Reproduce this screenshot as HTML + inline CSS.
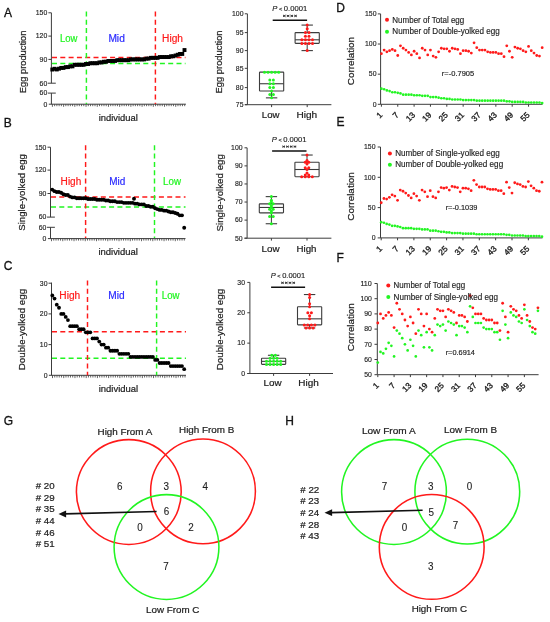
<!DOCTYPE html>
<html><head><meta charset="utf-8"><title>Figure</title>
<style>
html,body{margin:0;padding:0;background:#fff;}
body{width:550px;height:622px;overflow:hidden;}
svg{display:block;font-family:"Liberation Sans", sans-serif;will-change:transform;filter:blur(0.3px);}
</style></head>
<body>
<svg width="550" height="622" viewBox="0 0 550 622">
<rect width="550" height="622" fill="#fff"/>
<text x="3.98" y="17.40" font-size="12.0" fill="#111" stroke="#111" stroke-width="0.3">A</text>
<text x="3.82" y="126.60" font-size="12.0" fill="#111" stroke="#111" stroke-width="0.3">B</text>
<text x="3.69" y="269.60" font-size="12.0" fill="#111" stroke="#111" stroke-width="0.3">C</text>
<text x="336.32" y="12.20" font-size="12.0" fill="#111" stroke="#111" stroke-width="0.3">D</text>
<text x="336.42" y="125.60" font-size="12.0" fill="#111" stroke="#111" stroke-width="0.3">E</text>
<text x="336.62" y="262.20" font-size="12.0" fill="#111" stroke="#111" stroke-width="0.3">F</text>
<text x="3.70" y="424.60" font-size="12.0" fill="#111" stroke="#111" stroke-width="0.3">G</text>
<text x="285.22" y="424.60" font-size="12.0" fill="#111" stroke="#111" stroke-width="0.3">H</text>
<line x1="51.40" y1="12.80" x2="51.40" y2="83.20" stroke="#3c3c3c" stroke-width="1.0"/>
<line x1="51.40" y1="93.10" x2="51.40" y2="104.20" stroke="#3c3c3c" stroke-width="1.0"/>
<line x1="48.40" y1="12.80" x2="51.40" y2="12.80" stroke="#3c3c3c" stroke-width="1.0"/>
<text x="35.79" y="15.10" font-size="8.0" fill="#1e1e1e" stroke="#1e1e1e" stroke-width="0.16" textLength="11.48" lengthAdjust="spacingAndGlyphs">150</text>
<line x1="48.40" y1="36.10" x2="51.40" y2="36.10" stroke="#3c3c3c" stroke-width="1.0"/>
<text x="35.79" y="38.40" font-size="8.0" fill="#1e1e1e" stroke="#1e1e1e" stroke-width="0.16" textLength="11.48" lengthAdjust="spacingAndGlyphs">120</text>
<line x1="48.40" y1="59.40" x2="51.40" y2="59.40" stroke="#3c3c3c" stroke-width="1.0"/>
<text x="39.62" y="61.70" font-size="8.0" fill="#1e1e1e" stroke="#1e1e1e" stroke-width="0.16" textLength="7.65" lengthAdjust="spacingAndGlyphs">90</text>
<line x1="47.80" y1="83.20" x2="55.80" y2="83.20" stroke="#3c3c3c" stroke-width="1.0"/>
<text x="39.62" y="85.50" font-size="8.0" fill="#1e1e1e" stroke="#1e1e1e" stroke-width="0.16" textLength="7.65" lengthAdjust="spacingAndGlyphs">60</text>
<line x1="47.80" y1="93.10" x2="55.80" y2="93.10" stroke="#3c3c3c" stroke-width="1.0"/>
<text x="39.62" y="95.40" font-size="8.0" fill="#1e1e1e" stroke="#1e1e1e" stroke-width="0.16" textLength="7.65" lengthAdjust="spacingAndGlyphs">60</text>
<line x1="48.80" y1="104.20" x2="185.90" y2="104.20" stroke="#3c3c3c" stroke-width="1.0"/>
<text x="43.44" y="106.50" font-size="8.0" fill="#1e1e1e" stroke="#1e1e1e" stroke-width="0.16" textLength="3.83" lengthAdjust="spacingAndGlyphs">0</text>
<line x1="52.40" y1="104.20" x2="52.40" y2="106.80" stroke="#3c3c3c" stroke-width="0.8"/>
<line x1="54.64" y1="104.20" x2="54.64" y2="106.20" stroke="#3c3c3c" stroke-width="0.8"/>
<line x1="56.88" y1="104.20" x2="56.88" y2="106.20" stroke="#3c3c3c" stroke-width="0.8"/>
<line x1="59.13" y1="104.20" x2="59.13" y2="106.20" stroke="#3c3c3c" stroke-width="0.8"/>
<line x1="61.37" y1="104.20" x2="61.37" y2="106.20" stroke="#3c3c3c" stroke-width="0.8"/>
<line x1="63.61" y1="104.20" x2="63.61" y2="106.80" stroke="#3c3c3c" stroke-width="0.8"/>
<line x1="65.85" y1="104.20" x2="65.85" y2="106.20" stroke="#3c3c3c" stroke-width="0.8"/>
<line x1="68.10" y1="104.20" x2="68.10" y2="106.20" stroke="#3c3c3c" stroke-width="0.8"/>
<line x1="70.34" y1="104.20" x2="70.34" y2="106.20" stroke="#3c3c3c" stroke-width="0.8"/>
<line x1="72.58" y1="104.20" x2="72.58" y2="106.20" stroke="#3c3c3c" stroke-width="0.8"/>
<line x1="74.82" y1="104.20" x2="74.82" y2="106.80" stroke="#3c3c3c" stroke-width="0.8"/>
<line x1="77.07" y1="104.20" x2="77.07" y2="106.20" stroke="#3c3c3c" stroke-width="0.8"/>
<line x1="79.31" y1="104.20" x2="79.31" y2="106.20" stroke="#3c3c3c" stroke-width="0.8"/>
<line x1="81.55" y1="104.20" x2="81.55" y2="106.20" stroke="#3c3c3c" stroke-width="0.8"/>
<line x1="83.79" y1="104.20" x2="83.79" y2="106.20" stroke="#3c3c3c" stroke-width="0.8"/>
<line x1="86.04" y1="104.20" x2="86.04" y2="106.80" stroke="#3c3c3c" stroke-width="0.8"/>
<line x1="88.28" y1="104.20" x2="88.28" y2="106.20" stroke="#3c3c3c" stroke-width="0.8"/>
<line x1="90.52" y1="104.20" x2="90.52" y2="106.20" stroke="#3c3c3c" stroke-width="0.8"/>
<line x1="92.76" y1="104.20" x2="92.76" y2="106.20" stroke="#3c3c3c" stroke-width="0.8"/>
<line x1="95.01" y1="104.20" x2="95.01" y2="106.20" stroke="#3c3c3c" stroke-width="0.8"/>
<line x1="97.25" y1="104.20" x2="97.25" y2="106.80" stroke="#3c3c3c" stroke-width="0.8"/>
<line x1="99.49" y1="104.20" x2="99.49" y2="106.20" stroke="#3c3c3c" stroke-width="0.8"/>
<line x1="101.73" y1="104.20" x2="101.73" y2="106.20" stroke="#3c3c3c" stroke-width="0.8"/>
<line x1="103.97" y1="104.20" x2="103.97" y2="106.20" stroke="#3c3c3c" stroke-width="0.8"/>
<line x1="106.22" y1="104.20" x2="106.22" y2="106.20" stroke="#3c3c3c" stroke-width="0.8"/>
<line x1="108.46" y1="104.20" x2="108.46" y2="106.80" stroke="#3c3c3c" stroke-width="0.8"/>
<line x1="110.70" y1="104.20" x2="110.70" y2="106.20" stroke="#3c3c3c" stroke-width="0.8"/>
<line x1="112.94" y1="104.20" x2="112.94" y2="106.20" stroke="#3c3c3c" stroke-width="0.8"/>
<line x1="115.19" y1="104.20" x2="115.19" y2="106.20" stroke="#3c3c3c" stroke-width="0.8"/>
<line x1="117.43" y1="104.20" x2="117.43" y2="106.20" stroke="#3c3c3c" stroke-width="0.8"/>
<line x1="119.67" y1="104.20" x2="119.67" y2="106.80" stroke="#3c3c3c" stroke-width="0.8"/>
<line x1="121.91" y1="104.20" x2="121.91" y2="106.20" stroke="#3c3c3c" stroke-width="0.8"/>
<line x1="124.16" y1="104.20" x2="124.16" y2="106.20" stroke="#3c3c3c" stroke-width="0.8"/>
<line x1="126.40" y1="104.20" x2="126.40" y2="106.20" stroke="#3c3c3c" stroke-width="0.8"/>
<line x1="128.64" y1="104.20" x2="128.64" y2="106.20" stroke="#3c3c3c" stroke-width="0.8"/>
<line x1="130.88" y1="104.20" x2="130.88" y2="106.80" stroke="#3c3c3c" stroke-width="0.8"/>
<line x1="133.13" y1="104.20" x2="133.13" y2="106.20" stroke="#3c3c3c" stroke-width="0.8"/>
<line x1="135.37" y1="104.20" x2="135.37" y2="106.20" stroke="#3c3c3c" stroke-width="0.8"/>
<line x1="137.61" y1="104.20" x2="137.61" y2="106.20" stroke="#3c3c3c" stroke-width="0.8"/>
<line x1="139.85" y1="104.20" x2="139.85" y2="106.20" stroke="#3c3c3c" stroke-width="0.8"/>
<line x1="142.09" y1="104.20" x2="142.09" y2="106.80" stroke="#3c3c3c" stroke-width="0.8"/>
<line x1="144.34" y1="104.20" x2="144.34" y2="106.20" stroke="#3c3c3c" stroke-width="0.8"/>
<line x1="146.58" y1="104.20" x2="146.58" y2="106.20" stroke="#3c3c3c" stroke-width="0.8"/>
<line x1="148.82" y1="104.20" x2="148.82" y2="106.20" stroke="#3c3c3c" stroke-width="0.8"/>
<line x1="151.06" y1="104.20" x2="151.06" y2="106.20" stroke="#3c3c3c" stroke-width="0.8"/>
<line x1="153.31" y1="104.20" x2="153.31" y2="106.80" stroke="#3c3c3c" stroke-width="0.8"/>
<line x1="155.55" y1="104.20" x2="155.55" y2="106.20" stroke="#3c3c3c" stroke-width="0.8"/>
<line x1="157.79" y1="104.20" x2="157.79" y2="106.20" stroke="#3c3c3c" stroke-width="0.8"/>
<line x1="160.03" y1="104.20" x2="160.03" y2="106.20" stroke="#3c3c3c" stroke-width="0.8"/>
<line x1="162.28" y1="104.20" x2="162.28" y2="106.20" stroke="#3c3c3c" stroke-width="0.8"/>
<line x1="164.52" y1="104.20" x2="164.52" y2="106.80" stroke="#3c3c3c" stroke-width="0.8"/>
<line x1="166.76" y1="104.20" x2="166.76" y2="106.20" stroke="#3c3c3c" stroke-width="0.8"/>
<line x1="169.00" y1="104.20" x2="169.00" y2="106.20" stroke="#3c3c3c" stroke-width="0.8"/>
<line x1="171.25" y1="104.20" x2="171.25" y2="106.20" stroke="#3c3c3c" stroke-width="0.8"/>
<line x1="173.49" y1="104.20" x2="173.49" y2="106.20" stroke="#3c3c3c" stroke-width="0.8"/>
<line x1="175.73" y1="104.20" x2="175.73" y2="106.80" stroke="#3c3c3c" stroke-width="0.8"/>
<line x1="177.97" y1="104.20" x2="177.97" y2="106.20" stroke="#3c3c3c" stroke-width="0.8"/>
<line x1="180.22" y1="104.20" x2="180.22" y2="106.20" stroke="#3c3c3c" stroke-width="0.8"/>
<line x1="182.46" y1="104.20" x2="182.46" y2="106.20" stroke="#3c3c3c" stroke-width="0.8"/>
<line x1="184.70" y1="104.20" x2="184.70" y2="106.20" stroke="#3c3c3c" stroke-width="0.8"/>
<line x1="52.00" y1="57.40" x2="185.50" y2="57.40" stroke="#ff1a1a" stroke-width="1.45" stroke-dasharray="5 3.3" stroke-dashoffset="0"/>
<line x1="52.00" y1="63.40" x2="185.50" y2="63.40" stroke="#22f522" stroke-width="1.45" stroke-dasharray="5 3.3" stroke-dashoffset="0"/>
<line x1="86.40" y1="11.40" x2="86.40" y2="104.00" stroke="#22f522" stroke-width="1.45" stroke-dasharray="5 3.3" stroke-dashoffset="0"/>
<line x1="155.40" y1="11.40" x2="155.40" y2="104.00" stroke="#ff1a1a" stroke-width="1.45" stroke-dasharray="5 3.3" stroke-dashoffset="0"/>
<text x="59.97" y="42.30" font-size="10" fill="#22f522" stroke="#22f522" stroke-width="0.2" textLength="17.46" lengthAdjust="spacingAndGlyphs">Low</text>
<text x="108.42" y="42.20" font-size="10" fill="#2a2aff" stroke="#2a2aff" stroke-width="0.2" textLength="16.39" lengthAdjust="spacingAndGlyphs">Mid</text>
<text x="162.12" y="42.40" font-size="10" fill="#ff1a1a" stroke="#ff1a1a" stroke-width="0.2" textLength="20.89" lengthAdjust="spacingAndGlyphs">High</text>
<rect x="50.35" y="67.59" width="3.9" height="3.9" fill="#000"/>
<rect x="52.59" y="66.81" width="3.9" height="3.9" fill="#000"/>
<rect x="54.83" y="67.51" width="3.9" height="3.9" fill="#000"/>
<rect x="57.07" y="66.73" width="3.9" height="3.9" fill="#000"/>
<rect x="59.31" y="65.95" width="3.9" height="3.9" fill="#000"/>
<rect x="61.55" y="65.95" width="3.9" height="3.9" fill="#000"/>
<rect x="63.79" y="65.17" width="3.9" height="3.9" fill="#000"/>
<rect x="66.03" y="65.17" width="3.9" height="3.9" fill="#000"/>
<rect x="68.28" y="64.39" width="3.9" height="3.9" fill="#000"/>
<rect x="70.52" y="64.39" width="3.9" height="3.9" fill="#000"/>
<rect x="72.76" y="62.83" width="3.9" height="3.9" fill="#000"/>
<rect x="75.00" y="62.83" width="3.9" height="3.9" fill="#000"/>
<rect x="77.24" y="62.83" width="3.9" height="3.9" fill="#000"/>
<rect x="79.48" y="62.83" width="3.9" height="3.9" fill="#000"/>
<rect x="81.72" y="62.83" width="3.9" height="3.9" fill="#000"/>
<rect x="83.96" y="62.05" width="3.9" height="3.9" fill="#000"/>
<rect x="86.20" y="62.05" width="3.9" height="3.9" fill="#000"/>
<rect x="88.44" y="61.27" width="3.9" height="3.9" fill="#000"/>
<rect x="90.68" y="61.27" width="3.9" height="3.9" fill="#000"/>
<rect x="92.92" y="61.27" width="3.9" height="3.9" fill="#000"/>
<rect x="95.16" y="61.27" width="3.9" height="3.9" fill="#000"/>
<rect x="97.40" y="60.49" width="3.9" height="3.9" fill="#000"/>
<rect x="99.64" y="60.49" width="3.9" height="3.9" fill="#000"/>
<rect x="101.89" y="59.79" width="3.9" height="3.9" fill="#000"/>
<rect x="104.13" y="59.79" width="3.9" height="3.9" fill="#000"/>
<rect x="106.37" y="59.01" width="3.9" height="3.9" fill="#000"/>
<rect x="108.61" y="59.01" width="3.9" height="3.9" fill="#000"/>
<rect x="110.85" y="59.01" width="3.9" height="3.9" fill="#000"/>
<rect x="113.09" y="59.01" width="3.9" height="3.9" fill="#000"/>
<rect x="115.33" y="58.23" width="3.9" height="3.9" fill="#000"/>
<rect x="117.57" y="58.23" width="3.9" height="3.9" fill="#000"/>
<rect x="119.81" y="58.23" width="3.9" height="3.9" fill="#000"/>
<rect x="122.05" y="58.23" width="3.9" height="3.9" fill="#000"/>
<rect x="124.29" y="58.23" width="3.9" height="3.9" fill="#000"/>
<rect x="126.53" y="58.23" width="3.9" height="3.9" fill="#000"/>
<rect x="128.77" y="57.45" width="3.9" height="3.9" fill="#000"/>
<rect x="131.01" y="57.45" width="3.9" height="3.9" fill="#000"/>
<rect x="133.26" y="57.45" width="3.9" height="3.9" fill="#000"/>
<rect x="135.50" y="57.45" width="3.9" height="3.9" fill="#000"/>
<rect x="137.74" y="57.45" width="3.9" height="3.9" fill="#000"/>
<rect x="139.98" y="57.45" width="3.9" height="3.9" fill="#000"/>
<rect x="142.22" y="57.45" width="3.9" height="3.9" fill="#000"/>
<rect x="144.46" y="56.67" width="3.9" height="3.9" fill="#000"/>
<rect x="146.70" y="56.67" width="3.9" height="3.9" fill="#000"/>
<rect x="148.94" y="55.89" width="3.9" height="3.9" fill="#000"/>
<rect x="151.18" y="55.89" width="3.9" height="3.9" fill="#000"/>
<rect x="153.42" y="55.89" width="3.9" height="3.9" fill="#000"/>
<rect x="155.66" y="55.89" width="3.9" height="3.9" fill="#000"/>
<rect x="157.90" y="55.11" width="3.9" height="3.9" fill="#000"/>
<rect x="160.14" y="55.11" width="3.9" height="3.9" fill="#000"/>
<rect x="162.38" y="55.11" width="3.9" height="3.9" fill="#000"/>
<rect x="164.62" y="55.11" width="3.9" height="3.9" fill="#000"/>
<rect x="166.87" y="55.11" width="3.9" height="3.9" fill="#000"/>
<rect x="169.11" y="54.33" width="3.9" height="3.9" fill="#000"/>
<rect x="171.35" y="54.33" width="3.9" height="3.9" fill="#000"/>
<rect x="173.59" y="53.55" width="3.9" height="3.9" fill="#000"/>
<rect x="175.83" y="52.77" width="3.9" height="3.9" fill="#000"/>
<rect x="178.07" y="51.99" width="3.9" height="3.9" fill="#000"/>
<rect x="180.31" y="51.99" width="3.9" height="3.9" fill="#000"/>
<rect x="182.55" y="48.09" width="3.9" height="3.9" fill="#000"/>
<text transform="translate(26.40,92.45) rotate(-90)" x="-0.76" y="0" font-size="9.4" fill="#1e1e1e" stroke="#1e1e1e" stroke-width="0.22" textLength="62.67" lengthAdjust="spacingAndGlyphs">Egg production</text>
<text x="98.72" y="120.70" font-size="9.4" fill="#1e1e1e" stroke="#1e1e1e" stroke-width="0.22" textLength="39.16" lengthAdjust="spacingAndGlyphs">individual</text>
<line x1="50.50" y1="147.20" x2="50.50" y2="217.10" stroke="#3c3c3c" stroke-width="1.0"/>
<line x1="50.50" y1="227.30" x2="50.50" y2="238.60" stroke="#3c3c3c" stroke-width="1.0"/>
<line x1="47.50" y1="147.20" x2="50.50" y2="147.20" stroke="#3c3c3c" stroke-width="1.0"/>
<text x="34.89" y="149.50" font-size="8.0" fill="#1e1e1e" stroke="#1e1e1e" stroke-width="0.16" textLength="11.48" lengthAdjust="spacingAndGlyphs">150</text>
<line x1="47.50" y1="170.10" x2="50.50" y2="170.10" stroke="#3c3c3c" stroke-width="1.0"/>
<text x="34.89" y="172.40" font-size="8.0" fill="#1e1e1e" stroke="#1e1e1e" stroke-width="0.16" textLength="11.48" lengthAdjust="spacingAndGlyphs">120</text>
<line x1="47.50" y1="193.50" x2="50.50" y2="193.50" stroke="#3c3c3c" stroke-width="1.0"/>
<text x="38.72" y="195.80" font-size="8.0" fill="#1e1e1e" stroke="#1e1e1e" stroke-width="0.16" textLength="7.65" lengthAdjust="spacingAndGlyphs">90</text>
<line x1="46.90" y1="217.10" x2="54.90" y2="217.10" stroke="#3c3c3c" stroke-width="1.0"/>
<text x="38.72" y="219.40" font-size="8.0" fill="#1e1e1e" stroke="#1e1e1e" stroke-width="0.16" textLength="7.65" lengthAdjust="spacingAndGlyphs">60</text>
<line x1="46.90" y1="227.30" x2="54.90" y2="227.30" stroke="#3c3c3c" stroke-width="1.0"/>
<text x="38.72" y="229.60" font-size="8.0" fill="#1e1e1e" stroke="#1e1e1e" stroke-width="0.16" textLength="7.65" lengthAdjust="spacingAndGlyphs">60</text>
<line x1="47.90" y1="238.60" x2="185.50" y2="238.60" stroke="#3c3c3c" stroke-width="1.0"/>
<text x="42.54" y="240.90" font-size="8.0" fill="#1e1e1e" stroke="#1e1e1e" stroke-width="0.16" textLength="3.83" lengthAdjust="spacingAndGlyphs">0</text>
<line x1="51.50" y1="238.60" x2="51.50" y2="241.20" stroke="#3c3c3c" stroke-width="0.8"/>
<line x1="53.75" y1="238.60" x2="53.75" y2="240.60" stroke="#3c3c3c" stroke-width="0.8"/>
<line x1="56.00" y1="238.60" x2="56.00" y2="240.60" stroke="#3c3c3c" stroke-width="0.8"/>
<line x1="58.25" y1="238.60" x2="58.25" y2="240.60" stroke="#3c3c3c" stroke-width="0.8"/>
<line x1="60.50" y1="238.60" x2="60.50" y2="240.60" stroke="#3c3c3c" stroke-width="0.8"/>
<line x1="62.75" y1="238.60" x2="62.75" y2="241.20" stroke="#3c3c3c" stroke-width="0.8"/>
<line x1="65.01" y1="238.60" x2="65.01" y2="240.60" stroke="#3c3c3c" stroke-width="0.8"/>
<line x1="67.26" y1="238.60" x2="67.26" y2="240.60" stroke="#3c3c3c" stroke-width="0.8"/>
<line x1="69.51" y1="238.60" x2="69.51" y2="240.60" stroke="#3c3c3c" stroke-width="0.8"/>
<line x1="71.76" y1="238.60" x2="71.76" y2="240.60" stroke="#3c3c3c" stroke-width="0.8"/>
<line x1="74.01" y1="238.60" x2="74.01" y2="241.20" stroke="#3c3c3c" stroke-width="0.8"/>
<line x1="76.26" y1="238.60" x2="76.26" y2="240.60" stroke="#3c3c3c" stroke-width="0.8"/>
<line x1="78.51" y1="238.60" x2="78.51" y2="240.60" stroke="#3c3c3c" stroke-width="0.8"/>
<line x1="80.76" y1="238.60" x2="80.76" y2="240.60" stroke="#3c3c3c" stroke-width="0.8"/>
<line x1="83.01" y1="238.60" x2="83.01" y2="240.60" stroke="#3c3c3c" stroke-width="0.8"/>
<line x1="85.26" y1="238.60" x2="85.26" y2="241.20" stroke="#3c3c3c" stroke-width="0.8"/>
<line x1="87.51" y1="238.60" x2="87.51" y2="240.60" stroke="#3c3c3c" stroke-width="0.8"/>
<line x1="89.76" y1="238.60" x2="89.76" y2="240.60" stroke="#3c3c3c" stroke-width="0.8"/>
<line x1="92.02" y1="238.60" x2="92.02" y2="240.60" stroke="#3c3c3c" stroke-width="0.8"/>
<line x1="94.27" y1="238.60" x2="94.27" y2="240.60" stroke="#3c3c3c" stroke-width="0.8"/>
<line x1="96.52" y1="238.60" x2="96.52" y2="241.20" stroke="#3c3c3c" stroke-width="0.8"/>
<line x1="98.77" y1="238.60" x2="98.77" y2="240.60" stroke="#3c3c3c" stroke-width="0.8"/>
<line x1="101.02" y1="238.60" x2="101.02" y2="240.60" stroke="#3c3c3c" stroke-width="0.8"/>
<line x1="103.27" y1="238.60" x2="103.27" y2="240.60" stroke="#3c3c3c" stroke-width="0.8"/>
<line x1="105.52" y1="238.60" x2="105.52" y2="240.60" stroke="#3c3c3c" stroke-width="0.8"/>
<line x1="107.77" y1="238.60" x2="107.77" y2="241.20" stroke="#3c3c3c" stroke-width="0.8"/>
<line x1="110.02" y1="238.60" x2="110.02" y2="240.60" stroke="#3c3c3c" stroke-width="0.8"/>
<line x1="112.27" y1="238.60" x2="112.27" y2="240.60" stroke="#3c3c3c" stroke-width="0.8"/>
<line x1="114.52" y1="238.60" x2="114.52" y2="240.60" stroke="#3c3c3c" stroke-width="0.8"/>
<line x1="116.77" y1="238.60" x2="116.77" y2="240.60" stroke="#3c3c3c" stroke-width="0.8"/>
<line x1="119.03" y1="238.60" x2="119.03" y2="241.20" stroke="#3c3c3c" stroke-width="0.8"/>
<line x1="121.28" y1="238.60" x2="121.28" y2="240.60" stroke="#3c3c3c" stroke-width="0.8"/>
<line x1="123.53" y1="238.60" x2="123.53" y2="240.60" stroke="#3c3c3c" stroke-width="0.8"/>
<line x1="125.78" y1="238.60" x2="125.78" y2="240.60" stroke="#3c3c3c" stroke-width="0.8"/>
<line x1="128.03" y1="238.60" x2="128.03" y2="240.60" stroke="#3c3c3c" stroke-width="0.8"/>
<line x1="130.28" y1="238.60" x2="130.28" y2="241.20" stroke="#3c3c3c" stroke-width="0.8"/>
<line x1="132.53" y1="238.60" x2="132.53" y2="240.60" stroke="#3c3c3c" stroke-width="0.8"/>
<line x1="134.78" y1="238.60" x2="134.78" y2="240.60" stroke="#3c3c3c" stroke-width="0.8"/>
<line x1="137.03" y1="238.60" x2="137.03" y2="240.60" stroke="#3c3c3c" stroke-width="0.8"/>
<line x1="139.28" y1="238.60" x2="139.28" y2="240.60" stroke="#3c3c3c" stroke-width="0.8"/>
<line x1="141.53" y1="238.60" x2="141.53" y2="241.20" stroke="#3c3c3c" stroke-width="0.8"/>
<line x1="143.78" y1="238.60" x2="143.78" y2="240.60" stroke="#3c3c3c" stroke-width="0.8"/>
<line x1="146.04" y1="238.60" x2="146.04" y2="240.60" stroke="#3c3c3c" stroke-width="0.8"/>
<line x1="148.29" y1="238.60" x2="148.29" y2="240.60" stroke="#3c3c3c" stroke-width="0.8"/>
<line x1="150.54" y1="238.60" x2="150.54" y2="240.60" stroke="#3c3c3c" stroke-width="0.8"/>
<line x1="152.79" y1="238.60" x2="152.79" y2="241.20" stroke="#3c3c3c" stroke-width="0.8"/>
<line x1="155.04" y1="238.60" x2="155.04" y2="240.60" stroke="#3c3c3c" stroke-width="0.8"/>
<line x1="157.29" y1="238.60" x2="157.29" y2="240.60" stroke="#3c3c3c" stroke-width="0.8"/>
<line x1="159.54" y1="238.60" x2="159.54" y2="240.60" stroke="#3c3c3c" stroke-width="0.8"/>
<line x1="161.79" y1="238.60" x2="161.79" y2="240.60" stroke="#3c3c3c" stroke-width="0.8"/>
<line x1="164.04" y1="238.60" x2="164.04" y2="241.20" stroke="#3c3c3c" stroke-width="0.8"/>
<line x1="166.29" y1="238.60" x2="166.29" y2="240.60" stroke="#3c3c3c" stroke-width="0.8"/>
<line x1="168.54" y1="238.60" x2="168.54" y2="240.60" stroke="#3c3c3c" stroke-width="0.8"/>
<line x1="170.79" y1="238.60" x2="170.79" y2="240.60" stroke="#3c3c3c" stroke-width="0.8"/>
<line x1="173.05" y1="238.60" x2="173.05" y2="240.60" stroke="#3c3c3c" stroke-width="0.8"/>
<line x1="175.30" y1="238.60" x2="175.30" y2="241.20" stroke="#3c3c3c" stroke-width="0.8"/>
<line x1="177.55" y1="238.60" x2="177.55" y2="240.60" stroke="#3c3c3c" stroke-width="0.8"/>
<line x1="179.80" y1="238.60" x2="179.80" y2="240.60" stroke="#3c3c3c" stroke-width="0.8"/>
<line x1="182.05" y1="238.60" x2="182.05" y2="240.60" stroke="#3c3c3c" stroke-width="0.8"/>
<line x1="184.30" y1="238.60" x2="184.30" y2="240.60" stroke="#3c3c3c" stroke-width="0.8"/>
<line x1="51.00" y1="197.00" x2="185.50" y2="197.00" stroke="#ff1a1a" stroke-width="1.45" stroke-dasharray="5 3.3" stroke-dashoffset="0"/>
<line x1="51.00" y1="206.90" x2="185.50" y2="206.90" stroke="#22f522" stroke-width="1.45" stroke-dasharray="5 3.3" stroke-dashoffset="0"/>
<line x1="85.60" y1="145.30" x2="85.60" y2="238.00" stroke="#ff1a1a" stroke-width="1.45" stroke-dasharray="5 3.3" stroke-dashoffset="0"/>
<line x1="154.50" y1="145.30" x2="154.50" y2="238.00" stroke="#22f522" stroke-width="1.45" stroke-dasharray="5 3.3" stroke-dashoffset="0"/>
<text x="60.63" y="185.00" font-size="10" fill="#ff1a1a" stroke="#ff1a1a" stroke-width="0.2" textLength="20.68" lengthAdjust="spacingAndGlyphs">High</text>
<text x="109.33" y="185.00" font-size="10" fill="#2a2aff" stroke="#2a2aff" stroke-width="0.2" textLength="16.06" lengthAdjust="spacingAndGlyphs">Mid</text>
<text x="163.05" y="185.00" font-size="10" fill="#22f522" stroke="#22f522" stroke-width="0.2" textLength="17.88" lengthAdjust="spacingAndGlyphs">Low</text>
<circle cx="52.20" cy="189.60" r="1.95" fill="#000"/>
<circle cx="54.44" cy="191.16" r="1.95" fill="#000"/>
<circle cx="56.67" cy="191.94" r="1.95" fill="#000"/>
<circle cx="58.91" cy="191.94" r="1.95" fill="#000"/>
<circle cx="61.15" cy="192.72" r="1.95" fill="#000"/>
<circle cx="63.39" cy="194.28" r="1.95" fill="#000"/>
<circle cx="65.62" cy="195.06" r="1.95" fill="#000"/>
<circle cx="67.86" cy="195.06" r="1.95" fill="#000"/>
<circle cx="70.10" cy="196.62" r="1.95" fill="#000"/>
<circle cx="72.34" cy="197.40" r="1.95" fill="#000"/>
<circle cx="74.57" cy="197.40" r="1.95" fill="#000"/>
<circle cx="76.81" cy="198.18" r="1.95" fill="#000"/>
<circle cx="79.05" cy="198.18" r="1.95" fill="#000"/>
<circle cx="81.28" cy="198.18" r="1.95" fill="#000"/>
<circle cx="83.52" cy="198.18" r="1.95" fill="#000"/>
<circle cx="85.76" cy="198.18" r="1.95" fill="#000"/>
<circle cx="88.00" cy="198.96" r="1.95" fill="#000"/>
<circle cx="90.23" cy="198.96" r="1.95" fill="#000"/>
<circle cx="92.47" cy="198.96" r="1.95" fill="#000"/>
<circle cx="94.71" cy="198.96" r="1.95" fill="#000"/>
<circle cx="96.95" cy="199.74" r="1.95" fill="#000"/>
<circle cx="99.18" cy="199.74" r="1.95" fill="#000"/>
<circle cx="101.42" cy="199.74" r="1.95" fill="#000"/>
<circle cx="103.66" cy="199.74" r="1.95" fill="#000"/>
<circle cx="105.89" cy="200.52" r="1.95" fill="#000"/>
<circle cx="108.13" cy="200.52" r="1.95" fill="#000"/>
<circle cx="110.37" cy="201.30" r="1.95" fill="#000"/>
<circle cx="112.61" cy="201.30" r="1.95" fill="#000"/>
<circle cx="114.84" cy="201.30" r="1.95" fill="#000"/>
<circle cx="117.08" cy="202.08" r="1.95" fill="#000"/>
<circle cx="119.32" cy="202.08" r="1.95" fill="#000"/>
<circle cx="121.56" cy="202.08" r="1.95" fill="#000"/>
<circle cx="123.79" cy="202.86" r="1.95" fill="#000"/>
<circle cx="126.03" cy="202.86" r="1.95" fill="#000"/>
<circle cx="128.27" cy="202.86" r="1.95" fill="#000"/>
<circle cx="130.51" cy="202.86" r="1.95" fill="#000"/>
<circle cx="132.74" cy="202.86" r="1.95" fill="#000"/>
<circle cx="134.98" cy="203.64" r="1.95" fill="#000"/>
<circle cx="137.22" cy="203.64" r="1.95" fill="#000"/>
<circle cx="139.45" cy="204.42" r="1.95" fill="#000"/>
<circle cx="141.69" cy="204.42" r="1.95" fill="#000"/>
<circle cx="143.93" cy="204.42" r="1.95" fill="#000"/>
<circle cx="146.17" cy="205.98" r="1.95" fill="#000"/>
<circle cx="148.40" cy="205.98" r="1.95" fill="#000"/>
<circle cx="150.64" cy="206.76" r="1.95" fill="#000"/>
<circle cx="152.88" cy="206.76" r="1.95" fill="#000"/>
<circle cx="155.12" cy="208.32" r="1.95" fill="#000"/>
<circle cx="157.35" cy="209.10" r="1.95" fill="#000"/>
<circle cx="159.59" cy="209.88" r="1.95" fill="#000"/>
<circle cx="161.83" cy="209.88" r="1.95" fill="#000"/>
<circle cx="164.06" cy="210.66" r="1.95" fill="#000"/>
<circle cx="166.30" cy="210.66" r="1.95" fill="#000"/>
<circle cx="168.54" cy="211.44" r="1.95" fill="#000"/>
<circle cx="170.78" cy="212.22" r="1.95" fill="#000"/>
<circle cx="173.01" cy="212.22" r="1.95" fill="#000"/>
<circle cx="175.25" cy="213.00" r="1.95" fill="#000"/>
<circle cx="177.49" cy="213.78" r="1.95" fill="#000"/>
<circle cx="179.73" cy="215.34" r="1.95" fill="#000"/>
<circle cx="181.96" cy="215.34" r="1.95" fill="#000"/>
<circle cx="184.20" cy="227.68" r="1.95" fill="#000"/>
<circle cx="134.00" cy="198.70" r="1.95" fill="#000"/>
<text transform="translate(24.60,230.25) rotate(-90)" x="-0.44" y="0" font-size="9.6" fill="#1e1e1e" stroke="#1e1e1e" stroke-width="0.22" textLength="76.56" lengthAdjust="spacingAndGlyphs">Single-yolked egg</text>
<text x="98.42" y="255.00" font-size="9.4" fill="#1e1e1e" stroke="#1e1e1e" stroke-width="0.22" textLength="39.47" lengthAdjust="spacingAndGlyphs">individual</text>
<line x1="51.50" y1="282.60" x2="51.50" y2="375.30" stroke="#3c3c3c" stroke-width="1.0"/>
<line x1="48.50" y1="283.20" x2="51.50" y2="283.20" stroke="#3c3c3c" stroke-width="1.0"/>
<text x="39.82" y="285.50" font-size="8.0" fill="#1e1e1e" stroke="#1e1e1e" stroke-width="0.16" textLength="7.65" lengthAdjust="spacingAndGlyphs">30</text>
<line x1="48.50" y1="313.90" x2="51.50" y2="313.90" stroke="#3c3c3c" stroke-width="1.0"/>
<text x="39.82" y="316.20" font-size="8.0" fill="#1e1e1e" stroke="#1e1e1e" stroke-width="0.16" textLength="7.65" lengthAdjust="spacingAndGlyphs">20</text>
<line x1="48.50" y1="344.60" x2="51.50" y2="344.60" stroke="#3c3c3c" stroke-width="1.0"/>
<text x="39.82" y="346.90" font-size="8.0" fill="#1e1e1e" stroke="#1e1e1e" stroke-width="0.16" textLength="7.65" lengthAdjust="spacingAndGlyphs">10</text>
<text x="43.64" y="377.60" font-size="8.0" fill="#1e1e1e" stroke="#1e1e1e" stroke-width="0.16" textLength="3.83" lengthAdjust="spacingAndGlyphs">0</text>
<line x1="48.90" y1="375.30" x2="186.00" y2="375.30" stroke="#3c3c3c" stroke-width="1.0"/>
<line x1="52.50" y1="375.30" x2="52.50" y2="378.10" stroke="#3c3c3c" stroke-width="0.8"/>
<line x1="54.75" y1="375.30" x2="54.75" y2="377.50" stroke="#3c3c3c" stroke-width="0.8"/>
<line x1="56.99" y1="375.30" x2="56.99" y2="377.50" stroke="#3c3c3c" stroke-width="0.8"/>
<line x1="59.24" y1="375.30" x2="59.24" y2="377.50" stroke="#3c3c3c" stroke-width="0.8"/>
<line x1="61.48" y1="375.30" x2="61.48" y2="377.50" stroke="#3c3c3c" stroke-width="0.8"/>
<line x1="63.73" y1="375.30" x2="63.73" y2="378.10" stroke="#3c3c3c" stroke-width="0.8"/>
<line x1="65.97" y1="375.30" x2="65.97" y2="377.50" stroke="#3c3c3c" stroke-width="0.8"/>
<line x1="68.22" y1="375.30" x2="68.22" y2="377.50" stroke="#3c3c3c" stroke-width="0.8"/>
<line x1="70.47" y1="375.30" x2="70.47" y2="377.50" stroke="#3c3c3c" stroke-width="0.8"/>
<line x1="72.71" y1="375.30" x2="72.71" y2="377.50" stroke="#3c3c3c" stroke-width="0.8"/>
<line x1="74.96" y1="375.30" x2="74.96" y2="378.10" stroke="#3c3c3c" stroke-width="0.8"/>
<line x1="77.20" y1="375.30" x2="77.20" y2="377.50" stroke="#3c3c3c" stroke-width="0.8"/>
<line x1="79.45" y1="375.30" x2="79.45" y2="377.50" stroke="#3c3c3c" stroke-width="0.8"/>
<line x1="81.69" y1="375.30" x2="81.69" y2="377.50" stroke="#3c3c3c" stroke-width="0.8"/>
<line x1="83.94" y1="375.30" x2="83.94" y2="377.50" stroke="#3c3c3c" stroke-width="0.8"/>
<line x1="86.19" y1="375.30" x2="86.19" y2="378.10" stroke="#3c3c3c" stroke-width="0.8"/>
<line x1="88.43" y1="375.30" x2="88.43" y2="377.50" stroke="#3c3c3c" stroke-width="0.8"/>
<line x1="90.68" y1="375.30" x2="90.68" y2="377.50" stroke="#3c3c3c" stroke-width="0.8"/>
<line x1="92.92" y1="375.30" x2="92.92" y2="377.50" stroke="#3c3c3c" stroke-width="0.8"/>
<line x1="95.17" y1="375.30" x2="95.17" y2="377.50" stroke="#3c3c3c" stroke-width="0.8"/>
<line x1="97.42" y1="375.30" x2="97.42" y2="378.10" stroke="#3c3c3c" stroke-width="0.8"/>
<line x1="99.66" y1="375.30" x2="99.66" y2="377.50" stroke="#3c3c3c" stroke-width="0.8"/>
<line x1="101.91" y1="375.30" x2="101.91" y2="377.50" stroke="#3c3c3c" stroke-width="0.8"/>
<line x1="104.15" y1="375.30" x2="104.15" y2="377.50" stroke="#3c3c3c" stroke-width="0.8"/>
<line x1="106.40" y1="375.30" x2="106.40" y2="377.50" stroke="#3c3c3c" stroke-width="0.8"/>
<line x1="108.64" y1="375.30" x2="108.64" y2="378.10" stroke="#3c3c3c" stroke-width="0.8"/>
<line x1="110.89" y1="375.30" x2="110.89" y2="377.50" stroke="#3c3c3c" stroke-width="0.8"/>
<line x1="113.14" y1="375.30" x2="113.14" y2="377.50" stroke="#3c3c3c" stroke-width="0.8"/>
<line x1="115.38" y1="375.30" x2="115.38" y2="377.50" stroke="#3c3c3c" stroke-width="0.8"/>
<line x1="117.63" y1="375.30" x2="117.63" y2="377.50" stroke="#3c3c3c" stroke-width="0.8"/>
<line x1="119.87" y1="375.30" x2="119.87" y2="378.10" stroke="#3c3c3c" stroke-width="0.8"/>
<line x1="122.12" y1="375.30" x2="122.12" y2="377.50" stroke="#3c3c3c" stroke-width="0.8"/>
<line x1="124.36" y1="375.30" x2="124.36" y2="377.50" stroke="#3c3c3c" stroke-width="0.8"/>
<line x1="126.61" y1="375.30" x2="126.61" y2="377.50" stroke="#3c3c3c" stroke-width="0.8"/>
<line x1="128.86" y1="375.30" x2="128.86" y2="377.50" stroke="#3c3c3c" stroke-width="0.8"/>
<line x1="131.10" y1="375.30" x2="131.10" y2="378.10" stroke="#3c3c3c" stroke-width="0.8"/>
<line x1="133.35" y1="375.30" x2="133.35" y2="377.50" stroke="#3c3c3c" stroke-width="0.8"/>
<line x1="135.59" y1="375.30" x2="135.59" y2="377.50" stroke="#3c3c3c" stroke-width="0.8"/>
<line x1="137.84" y1="375.30" x2="137.84" y2="377.50" stroke="#3c3c3c" stroke-width="0.8"/>
<line x1="140.08" y1="375.30" x2="140.08" y2="377.50" stroke="#3c3c3c" stroke-width="0.8"/>
<line x1="142.33" y1="375.30" x2="142.33" y2="378.10" stroke="#3c3c3c" stroke-width="0.8"/>
<line x1="144.58" y1="375.30" x2="144.58" y2="377.50" stroke="#3c3c3c" stroke-width="0.8"/>
<line x1="146.82" y1="375.30" x2="146.82" y2="377.50" stroke="#3c3c3c" stroke-width="0.8"/>
<line x1="149.07" y1="375.30" x2="149.07" y2="377.50" stroke="#3c3c3c" stroke-width="0.8"/>
<line x1="151.31" y1="375.30" x2="151.31" y2="377.50" stroke="#3c3c3c" stroke-width="0.8"/>
<line x1="153.56" y1="375.30" x2="153.56" y2="378.10" stroke="#3c3c3c" stroke-width="0.8"/>
<line x1="155.81" y1="375.30" x2="155.81" y2="377.50" stroke="#3c3c3c" stroke-width="0.8"/>
<line x1="158.05" y1="375.30" x2="158.05" y2="377.50" stroke="#3c3c3c" stroke-width="0.8"/>
<line x1="160.30" y1="375.30" x2="160.30" y2="377.50" stroke="#3c3c3c" stroke-width="0.8"/>
<line x1="162.54" y1="375.30" x2="162.54" y2="377.50" stroke="#3c3c3c" stroke-width="0.8"/>
<line x1="164.79" y1="375.30" x2="164.79" y2="378.10" stroke="#3c3c3c" stroke-width="0.8"/>
<line x1="167.03" y1="375.30" x2="167.03" y2="377.50" stroke="#3c3c3c" stroke-width="0.8"/>
<line x1="169.28" y1="375.30" x2="169.28" y2="377.50" stroke="#3c3c3c" stroke-width="0.8"/>
<line x1="171.53" y1="375.30" x2="171.53" y2="377.50" stroke="#3c3c3c" stroke-width="0.8"/>
<line x1="173.77" y1="375.30" x2="173.77" y2="377.50" stroke="#3c3c3c" stroke-width="0.8"/>
<line x1="176.02" y1="375.30" x2="176.02" y2="378.10" stroke="#3c3c3c" stroke-width="0.8"/>
<line x1="178.26" y1="375.30" x2="178.26" y2="377.50" stroke="#3c3c3c" stroke-width="0.8"/>
<line x1="180.51" y1="375.30" x2="180.51" y2="377.50" stroke="#3c3c3c" stroke-width="0.8"/>
<line x1="182.75" y1="375.30" x2="182.75" y2="377.50" stroke="#3c3c3c" stroke-width="0.8"/>
<line x1="185.00" y1="375.30" x2="185.00" y2="377.50" stroke="#3c3c3c" stroke-width="0.8"/>
<line x1="52.00" y1="331.70" x2="186.00" y2="331.70" stroke="#ff1a1a" stroke-width="1.45" stroke-dasharray="5 3.3" stroke-dashoffset="0"/>
<line x1="52.00" y1="358.30" x2="186.00" y2="358.30" stroke="#22f522" stroke-width="1.45" stroke-dasharray="5 3.3" stroke-dashoffset="0"/>
<line x1="87.50" y1="280.40" x2="87.50" y2="375.30" stroke="#ff1a1a" stroke-width="1.45" stroke-dasharray="5 3.3" stroke-dashoffset="0"/>
<line x1="156.60" y1="280.40" x2="156.60" y2="375.30" stroke="#22f522" stroke-width="1.45" stroke-dasharray="5 3.3" stroke-dashoffset="0"/>
<text x="59.32" y="298.90" font-size="10" fill="#ff1a1a" stroke="#ff1a1a" stroke-width="0.2" textLength="20.89" lengthAdjust="spacingAndGlyphs">High</text>
<text x="108.32" y="299.00" font-size="10" fill="#2a2aff" stroke="#2a2aff" stroke-width="0.2" textLength="16.28" lengthAdjust="spacingAndGlyphs">Mid</text>
<text x="161.86" y="298.90" font-size="10" fill="#22f522" stroke="#22f522" stroke-width="0.2" textLength="17.67" lengthAdjust="spacingAndGlyphs">Low</text>
<circle cx="52.30" cy="295.48" r="1.9" fill="#000"/>
<circle cx="54.54" cy="298.55" r="1.9" fill="#000"/>
<circle cx="56.77" cy="304.69" r="1.9" fill="#000"/>
<circle cx="59.01" cy="307.76" r="1.9" fill="#000"/>
<circle cx="61.24" cy="313.90" r="1.9" fill="#000"/>
<circle cx="63.48" cy="313.90" r="1.9" fill="#000"/>
<circle cx="65.71" cy="316.97" r="1.9" fill="#000"/>
<circle cx="67.95" cy="320.04" r="1.9" fill="#000"/>
<circle cx="70.18" cy="326.18" r="1.9" fill="#000"/>
<circle cx="72.42" cy="326.18" r="1.9" fill="#000"/>
<circle cx="74.66" cy="326.18" r="1.9" fill="#000"/>
<circle cx="76.89" cy="326.18" r="1.9" fill="#000"/>
<circle cx="79.13" cy="329.25" r="1.9" fill="#000"/>
<circle cx="81.36" cy="329.25" r="1.9" fill="#000"/>
<circle cx="83.60" cy="329.25" r="1.9" fill="#000"/>
<circle cx="85.83" cy="332.32" r="1.9" fill="#000"/>
<circle cx="88.07" cy="332.32" r="1.9" fill="#000"/>
<circle cx="90.31" cy="332.32" r="1.9" fill="#000"/>
<circle cx="92.54" cy="338.46" r="1.9" fill="#000"/>
<circle cx="94.78" cy="338.46" r="1.9" fill="#000"/>
<circle cx="97.01" cy="338.46" r="1.9" fill="#000"/>
<circle cx="99.25" cy="341.53" r="1.9" fill="#000"/>
<circle cx="101.48" cy="344.60" r="1.9" fill="#000"/>
<circle cx="103.72" cy="344.60" r="1.9" fill="#000"/>
<circle cx="105.95" cy="347.67" r="1.9" fill="#000"/>
<circle cx="108.19" cy="347.67" r="1.9" fill="#000"/>
<circle cx="110.43" cy="350.74" r="1.9" fill="#000"/>
<circle cx="112.66" cy="350.74" r="1.9" fill="#000"/>
<circle cx="114.90" cy="350.74" r="1.9" fill="#000"/>
<circle cx="117.13" cy="350.74" r="1.9" fill="#000"/>
<circle cx="119.37" cy="353.81" r="1.9" fill="#000"/>
<circle cx="121.60" cy="353.81" r="1.9" fill="#000"/>
<circle cx="123.84" cy="353.81" r="1.9" fill="#000"/>
<circle cx="126.07" cy="353.81" r="1.9" fill="#000"/>
<circle cx="128.31" cy="353.81" r="1.9" fill="#000"/>
<circle cx="130.55" cy="356.88" r="1.9" fill="#000"/>
<circle cx="132.78" cy="356.88" r="1.9" fill="#000"/>
<circle cx="135.02" cy="356.88" r="1.9" fill="#000"/>
<circle cx="137.25" cy="356.88" r="1.9" fill="#000"/>
<circle cx="139.49" cy="356.88" r="1.9" fill="#000"/>
<circle cx="141.72" cy="356.88" r="1.9" fill="#000"/>
<circle cx="143.96" cy="356.88" r="1.9" fill="#000"/>
<circle cx="146.19" cy="356.88" r="1.9" fill="#000"/>
<circle cx="148.43" cy="356.88" r="1.9" fill="#000"/>
<circle cx="150.67" cy="356.88" r="1.9" fill="#000"/>
<circle cx="152.90" cy="356.88" r="1.9" fill="#000"/>
<circle cx="155.14" cy="359.95" r="1.9" fill="#000"/>
<circle cx="157.37" cy="359.95" r="1.9" fill="#000"/>
<circle cx="159.61" cy="363.02" r="1.9" fill="#000"/>
<circle cx="161.84" cy="363.02" r="1.9" fill="#000"/>
<circle cx="164.08" cy="363.02" r="1.9" fill="#000"/>
<circle cx="166.32" cy="363.02" r="1.9" fill="#000"/>
<circle cx="168.55" cy="363.02" r="1.9" fill="#000"/>
<circle cx="170.79" cy="366.09" r="1.9" fill="#000"/>
<circle cx="173.02" cy="366.09" r="1.9" fill="#000"/>
<circle cx="175.26" cy="366.09" r="1.9" fill="#000"/>
<circle cx="177.49" cy="366.09" r="1.9" fill="#000"/>
<circle cx="179.73" cy="366.09" r="1.9" fill="#000"/>
<circle cx="181.96" cy="366.09" r="1.9" fill="#000"/>
<circle cx="184.20" cy="369.16" r="1.9" fill="#000"/>
<text transform="translate(24.80,369.45) rotate(-90)" x="-0.80" y="0" font-size="9.6" fill="#1e1e1e" stroke="#1e1e1e" stroke-width="0.22" textLength="81.33" lengthAdjust="spacingAndGlyphs">Double-yolked egg</text>
<text x="98.72" y="391.90" font-size="9.4" fill="#1e1e1e" stroke="#1e1e1e" stroke-width="0.22" textLength="39.36" lengthAdjust="spacingAndGlyphs">individual</text>
<line x1="247.40" y1="13.80" x2="247.40" y2="104.70" stroke="#3c3c3c" stroke-width="1.0"/>
<line x1="244.80" y1="13.80" x2="247.40" y2="13.80" stroke="#3c3c3c" stroke-width="1.0"/>
<text x="231.99" y="16.10" font-size="8.0" fill="#1e1e1e" stroke="#1e1e1e" stroke-width="0.16" textLength="11.48" lengthAdjust="spacingAndGlyphs">100</text>
<line x1="244.80" y1="32.60" x2="247.40" y2="32.60" stroke="#3c3c3c" stroke-width="1.0"/>
<text x="235.84" y="34.90" font-size="8.0" fill="#1e1e1e" stroke="#1e1e1e" stroke-width="0.16" textLength="7.65" lengthAdjust="spacingAndGlyphs">95</text>
<line x1="244.80" y1="50.60" x2="247.40" y2="50.60" stroke="#3c3c3c" stroke-width="1.0"/>
<text x="235.82" y="52.90" font-size="8.0" fill="#1e1e1e" stroke="#1e1e1e" stroke-width="0.16" textLength="7.65" lengthAdjust="spacingAndGlyphs">90</text>
<line x1="244.80" y1="68.30" x2="247.40" y2="68.30" stroke="#3c3c3c" stroke-width="1.0"/>
<text x="235.84" y="70.60" font-size="8.0" fill="#1e1e1e" stroke="#1e1e1e" stroke-width="0.16" textLength="7.65" lengthAdjust="spacingAndGlyphs">85</text>
<line x1="244.80" y1="87.60" x2="247.40" y2="87.60" stroke="#3c3c3c" stroke-width="1.0"/>
<text x="235.82" y="89.90" font-size="8.0" fill="#1e1e1e" stroke="#1e1e1e" stroke-width="0.16" textLength="7.65" lengthAdjust="spacingAndGlyphs">80</text>
<line x1="244.80" y1="104.70" x2="247.40" y2="104.70" stroke="#3c3c3c" stroke-width="1.0"/>
<text x="235.84" y="107.00" font-size="8.0" fill="#1e1e1e" stroke="#1e1e1e" stroke-width="0.16" textLength="7.65" lengthAdjust="spacingAndGlyphs">75</text>
<line x1="244.80" y1="104.70" x2="331.40" y2="104.70" stroke="#3c3c3c" stroke-width="1.0"/>
<line x1="271.60" y1="104.70" x2="271.60" y2="107.10" stroke="#3c3c3c" stroke-width="1.0"/>
<line x1="307.20" y1="104.70" x2="307.20" y2="107.10" stroke="#3c3c3c" stroke-width="1.0"/>
<text x="261.86" y="117.60" font-size="9.6" fill="#1e1e1e" stroke="#1e1e1e" stroke-width="0.22" textLength="17.67" lengthAdjust="spacingAndGlyphs">Low</text>
<text x="296.53" y="117.60" font-size="9.6" fill="#1e1e1e" stroke="#1e1e1e" stroke-width="0.22" textLength="20.68" lengthAdjust="spacingAndGlyphs">High</text>
<line x1="271.60" y1="91.02" x2="271.60" y2="97.86" stroke="#3c3c3c" stroke-width="1.0"/>
<line x1="265.90" y1="97.86" x2="277.30" y2="97.86" stroke="#3c3c3c" stroke-width="1.1"/>
<rect x="259.50" y="72.16" width="24.20" height="18.86" fill="none" stroke="#3c3c3c" stroke-width="1.1" rx="0.6"/>
<line x1="259.50" y1="83.74" x2="283.70" y2="83.74" stroke="#3c3c3c" stroke-width="1.1"/>
<circle cx="264.50" cy="72.16" r="1.5" fill="#22f522"/>
<circle cx="268.05" cy="72.16" r="1.5" fill="#22f522"/>
<circle cx="271.60" cy="72.16" r="1.5" fill="#22f522"/>
<circle cx="275.15" cy="72.16" r="1.5" fill="#22f522"/>
<circle cx="278.70" cy="72.16" r="1.5" fill="#22f522"/>
<circle cx="269.83" cy="79.88" r="1.5" fill="#22f522"/>
<circle cx="273.38" cy="79.88" r="1.5" fill="#22f522"/>
<circle cx="269.83" cy="83.74" r="1.5" fill="#22f522"/>
<circle cx="273.38" cy="83.74" r="1.5" fill="#22f522"/>
<circle cx="269.83" cy="87.60" r="1.5" fill="#22f522"/>
<circle cx="273.38" cy="87.60" r="1.5" fill="#22f522"/>
<circle cx="271.60" cy="91.02" r="1.5" fill="#22f522"/>
<circle cx="269.83" cy="94.44" r="1.5" fill="#22f522"/>
<circle cx="273.38" cy="94.44" r="1.5" fill="#22f522"/>
<circle cx="271.60" cy="97.86" r="1.5" fill="#22f522"/>
<line x1="307.20" y1="32.60" x2="307.20" y2="25.08" stroke="#3c3c3c" stroke-width="1.0"/>
<line x1="301.50" y1="25.08" x2="312.90" y2="25.08" stroke="#3c3c3c" stroke-width="1.1"/>
<line x1="307.20" y1="43.40" x2="307.20" y2="50.60" stroke="#3c3c3c" stroke-width="1.0"/>
<line x1="301.50" y1="50.60" x2="312.90" y2="50.60" stroke="#3c3c3c" stroke-width="1.1"/>
<rect x="295.10" y="32.60" width="24.20" height="10.80" fill="none" stroke="#3c3c3c" stroke-width="1.1" rx="0.6"/>
<line x1="295.10" y1="39.80" x2="319.30" y2="39.80" stroke="#3c3c3c" stroke-width="1.1"/>
<circle cx="307.20" cy="25.08" r="1.5" fill="#ff1a1a"/>
<circle cx="307.20" cy="28.84" r="1.5" fill="#ff1a1a"/>
<circle cx="305.43" cy="32.60" r="1.5" fill="#ff1a1a"/>
<circle cx="308.97" cy="32.60" r="1.5" fill="#ff1a1a"/>
<circle cx="305.43" cy="36.20" r="1.5" fill="#ff1a1a"/>
<circle cx="308.97" cy="36.20" r="1.5" fill="#ff1a1a"/>
<circle cx="301.88" cy="39.80" r="1.5" fill="#ff1a1a"/>
<circle cx="305.43" cy="39.80" r="1.5" fill="#ff1a1a"/>
<circle cx="308.97" cy="39.80" r="1.5" fill="#ff1a1a"/>
<circle cx="312.52" cy="39.80" r="1.5" fill="#ff1a1a"/>
<circle cx="301.88" cy="43.40" r="1.5" fill="#ff1a1a"/>
<circle cx="305.43" cy="43.40" r="1.5" fill="#ff1a1a"/>
<circle cx="308.97" cy="43.40" r="1.5" fill="#ff1a1a"/>
<circle cx="312.52" cy="43.40" r="1.5" fill="#ff1a1a"/>
<circle cx="307.20" cy="50.60" r="1.5" fill="#ff1a1a"/>
<line x1="272.70" y1="20.30" x2="307.10" y2="20.30" stroke="#111" stroke-width="1.5"/>
<text x="272.36" y="10.80" font-size="7.6" fill="#1e1e1e" stroke="#1e1e1e" stroke-width="0.15" textLength="34.84" lengthAdjust="spacingAndGlyphs"><tspan font-style="italic">P</tspan><tspan font-size="5.6" dy="-0.3"> &lt; </tspan><tspan dy="0.3">0.0001</tspan></text>
<path d="M283.10,15.00 L285.50,16.80 M285.50,15.00 L283.10,16.80 M283.00,15.90 L285.60,15.90" stroke="#333" stroke-width="0.9"/>
<path d="M286.85,15.00 L289.25,16.80 M289.25,15.00 L286.85,16.80 M286.75,15.90 L289.35,15.90" stroke="#333" stroke-width="0.9"/>
<path d="M290.60,15.00 L293.00,16.80 M293.00,15.00 L290.60,16.80 M290.50,15.90 L293.10,15.90" stroke="#333" stroke-width="0.9"/>
<path d="M294.35,15.00 L296.75,16.80 M296.75,15.00 L294.35,16.80 M294.25,15.90 L296.85,15.90" stroke="#333" stroke-width="0.9"/>
<text transform="translate(222.10,92.65) rotate(-90)" x="-0.77" y="0" font-size="9.4" fill="#1e1e1e" stroke="#1e1e1e" stroke-width="0.22" textLength="62.98" lengthAdjust="spacingAndGlyphs">Egg production</text>
<line x1="247.10" y1="147.80" x2="247.10" y2="238.20" stroke="#3c3c3c" stroke-width="1.0"/>
<line x1="244.50" y1="147.80" x2="247.10" y2="147.80" stroke="#3c3c3c" stroke-width="1.0"/>
<text x="231.09" y="150.10" font-size="8.0" fill="#1e1e1e" stroke="#1e1e1e" stroke-width="0.16" textLength="11.48" lengthAdjust="spacingAndGlyphs">100</text>
<line x1="244.50" y1="165.88" x2="247.10" y2="165.88" stroke="#3c3c3c" stroke-width="1.0"/>
<text x="234.92" y="168.18" font-size="8.0" fill="#1e1e1e" stroke="#1e1e1e" stroke-width="0.16" textLength="7.65" lengthAdjust="spacingAndGlyphs">90</text>
<line x1="244.50" y1="183.96" x2="247.10" y2="183.96" stroke="#3c3c3c" stroke-width="1.0"/>
<text x="234.92" y="186.26" font-size="8.0" fill="#1e1e1e" stroke="#1e1e1e" stroke-width="0.16" textLength="7.65" lengthAdjust="spacingAndGlyphs">80</text>
<line x1="244.50" y1="202.04" x2="247.10" y2="202.04" stroke="#3c3c3c" stroke-width="1.0"/>
<text x="234.92" y="204.34" font-size="8.0" fill="#1e1e1e" stroke="#1e1e1e" stroke-width="0.16" textLength="7.65" lengthAdjust="spacingAndGlyphs">70</text>
<line x1="244.50" y1="220.12" x2="247.10" y2="220.12" stroke="#3c3c3c" stroke-width="1.0"/>
<text x="234.92" y="222.42" font-size="8.0" fill="#1e1e1e" stroke="#1e1e1e" stroke-width="0.16" textLength="7.65" lengthAdjust="spacingAndGlyphs">60</text>
<line x1="244.50" y1="238.20" x2="247.10" y2="238.20" stroke="#3c3c3c" stroke-width="1.0"/>
<text x="234.92" y="240.50" font-size="8.0" fill="#1e1e1e" stroke="#1e1e1e" stroke-width="0.16" textLength="7.65" lengthAdjust="spacingAndGlyphs">50</text>
<line x1="244.50" y1="238.20" x2="331.40" y2="238.20" stroke="#3c3c3c" stroke-width="1.0"/>
<line x1="271.40" y1="238.20" x2="271.40" y2="240.60" stroke="#3c3c3c" stroke-width="1.0"/>
<line x1="307.00" y1="238.20" x2="307.00" y2="240.60" stroke="#3c3c3c" stroke-width="1.0"/>
<text x="261.44" y="251.60" font-size="9.6" fill="#1e1e1e" stroke="#1e1e1e" stroke-width="0.22" textLength="18.08" lengthAdjust="spacingAndGlyphs">Low</text>
<text x="296.45" y="251.60" font-size="9.6" fill="#1e1e1e" stroke="#1e1e1e" stroke-width="0.22" textLength="20.03" lengthAdjust="spacingAndGlyphs">High</text>
<line x1="271.40" y1="203.85" x2="271.40" y2="196.62" stroke="#3c3c3c" stroke-width="1.0"/>
<line x1="265.70" y1="196.62" x2="277.10" y2="196.62" stroke="#3c3c3c" stroke-width="1.1"/>
<line x1="271.40" y1="212.89" x2="271.40" y2="223.74" stroke="#3c3c3c" stroke-width="1.0"/>
<line x1="265.70" y1="223.74" x2="277.10" y2="223.74" stroke="#3c3c3c" stroke-width="1.1"/>
<rect x="259.30" y="203.85" width="24.20" height="9.04" fill="none" stroke="#3c3c3c" stroke-width="1.1" rx="0.6"/>
<line x1="259.30" y1="207.46" x2="283.50" y2="207.46" stroke="#3c3c3c" stroke-width="1.1"/>
<circle cx="271.40" cy="196.62" r="1.5" fill="#22f522"/>
<circle cx="271.40" cy="200.23" r="1.5" fill="#22f522"/>
<circle cx="271.40" cy="202.04" r="1.5" fill="#22f522"/>
<circle cx="269.62" cy="203.85" r="1.5" fill="#22f522"/>
<circle cx="273.17" cy="203.85" r="1.5" fill="#22f522"/>
<circle cx="271.40" cy="205.66" r="1.5" fill="#22f522"/>
<circle cx="271.40" cy="207.46" r="1.5" fill="#22f522"/>
<circle cx="269.62" cy="209.27" r="1.5" fill="#22f522"/>
<circle cx="273.17" cy="209.27" r="1.5" fill="#22f522"/>
<circle cx="271.40" cy="211.08" r="1.5" fill="#22f522"/>
<circle cx="271.40" cy="212.89" r="1.5" fill="#22f522"/>
<circle cx="269.62" cy="216.50" r="1.5" fill="#22f522"/>
<circle cx="273.17" cy="216.50" r="1.5" fill="#22f522"/>
<circle cx="271.40" cy="223.74" r="1.5" fill="#22f522"/>
<line x1="307.00" y1="162.26" x2="307.00" y2="155.03" stroke="#3c3c3c" stroke-width="1.0"/>
<line x1="301.30" y1="155.03" x2="312.70" y2="155.03" stroke="#3c3c3c" stroke-width="1.1"/>
<rect x="294.90" y="162.26" width="24.20" height="14.46" fill="none" stroke="#3c3c3c" stroke-width="1.1" rx="0.6"/>
<line x1="294.90" y1="169.50" x2="319.10" y2="169.50" stroke="#3c3c3c" stroke-width="1.1"/>
<circle cx="307.00" cy="155.03" r="1.5" fill="#ff1a1a"/>
<circle cx="307.00" cy="160.46" r="1.5" fill="#ff1a1a"/>
<circle cx="305.23" cy="162.26" r="1.5" fill="#ff1a1a"/>
<circle cx="308.77" cy="162.26" r="1.5" fill="#ff1a1a"/>
<circle cx="307.00" cy="164.07" r="1.5" fill="#ff1a1a"/>
<circle cx="305.23" cy="167.69" r="1.5" fill="#ff1a1a"/>
<circle cx="308.77" cy="167.69" r="1.5" fill="#ff1a1a"/>
<circle cx="307.00" cy="169.50" r="1.5" fill="#ff1a1a"/>
<circle cx="307.00" cy="173.11" r="1.5" fill="#ff1a1a"/>
<circle cx="305.23" cy="174.92" r="1.5" fill="#ff1a1a"/>
<circle cx="308.77" cy="174.92" r="1.5" fill="#ff1a1a"/>
<circle cx="301.68" cy="176.73" r="1.5" fill="#ff1a1a"/>
<circle cx="305.23" cy="176.73" r="1.5" fill="#ff1a1a"/>
<circle cx="308.77" cy="176.73" r="1.5" fill="#ff1a1a"/>
<circle cx="312.32" cy="176.73" r="1.5" fill="#ff1a1a"/>
<line x1="272.10" y1="151.00" x2="306.50" y2="151.00" stroke="#111" stroke-width="1.5"/>
<text x="271.76" y="142.10" font-size="7.6" fill="#1e1e1e" stroke="#1e1e1e" stroke-width="0.15" textLength="34.84" lengthAdjust="spacingAndGlyphs"><tspan font-style="italic">P</tspan><tspan font-size="5.6" dy="-0.3"> &lt; </tspan><tspan dy="0.3">0.0001</tspan></text>
<path d="M282.50,145.70 L284.90,147.50 M284.90,145.70 L282.50,147.50 M282.40,146.60 L285.00,146.60" stroke="#333" stroke-width="0.9"/>
<path d="M286.25,145.70 L288.65,147.50 M288.65,145.70 L286.25,147.50 M286.15,146.60 L288.75,146.60" stroke="#333" stroke-width="0.9"/>
<path d="M290.00,145.70 L292.40,147.50 M292.40,145.70 L290.00,147.50 M289.90,146.60 L292.50,146.60" stroke="#333" stroke-width="0.9"/>
<path d="M293.75,145.70 L296.15,147.50 M296.15,145.70 L293.75,147.50 M293.65,146.60 L296.25,146.60" stroke="#333" stroke-width="0.9"/>
<text transform="translate(222.80,231.05) rotate(-90)" x="-0.44" y="0" font-size="9.6" fill="#1e1e1e" stroke="#1e1e1e" stroke-width="0.22" textLength="77.37" lengthAdjust="spacingAndGlyphs">Single-yolked egg</text>
<line x1="249.90" y1="282.40" x2="249.90" y2="373.50" stroke="#3c3c3c" stroke-width="1.0"/>
<line x1="247.30" y1="282.40" x2="249.90" y2="282.40" stroke="#3c3c3c" stroke-width="1.0"/>
<text x="237.32" y="284.70" font-size="8.0" fill="#1e1e1e" stroke="#1e1e1e" stroke-width="0.16" textLength="7.65" lengthAdjust="spacingAndGlyphs">30</text>
<line x1="247.30" y1="312.77" x2="249.90" y2="312.77" stroke="#3c3c3c" stroke-width="1.0"/>
<text x="237.32" y="315.07" font-size="8.0" fill="#1e1e1e" stroke="#1e1e1e" stroke-width="0.16" textLength="7.65" lengthAdjust="spacingAndGlyphs">20</text>
<line x1="247.30" y1="343.13" x2="249.90" y2="343.13" stroke="#3c3c3c" stroke-width="1.0"/>
<text x="237.32" y="345.43" font-size="8.0" fill="#1e1e1e" stroke="#1e1e1e" stroke-width="0.16" textLength="7.65" lengthAdjust="spacingAndGlyphs">10</text>
<line x1="247.30" y1="373.50" x2="249.90" y2="373.50" stroke="#3c3c3c" stroke-width="1.0"/>
<text x="241.14" y="375.80" font-size="8.0" fill="#1e1e1e" stroke="#1e1e1e" stroke-width="0.16" textLength="3.83" lengthAdjust="spacingAndGlyphs">0</text>
<line x1="247.30" y1="373.50" x2="333.00" y2="373.50" stroke="#3c3c3c" stroke-width="1.0"/>
<line x1="273.60" y1="373.50" x2="273.60" y2="375.90" stroke="#3c3c3c" stroke-width="1.0"/>
<line x1="309.60" y1="373.50" x2="309.60" y2="375.90" stroke="#3c3c3c" stroke-width="1.0"/>
<text x="263.64" y="386.40" font-size="9.6" fill="#1e1e1e" stroke="#1e1e1e" stroke-width="0.22" textLength="18.08" lengthAdjust="spacingAndGlyphs">Low</text>
<text x="298.33" y="386.40" font-size="9.6" fill="#1e1e1e" stroke="#1e1e1e" stroke-width="0.22" textLength="20.46" lengthAdjust="spacingAndGlyphs">High</text>
<line x1="273.60" y1="358.32" x2="273.60" y2="355.28" stroke="#3c3c3c" stroke-width="1.0"/>
<line x1="267.90" y1="355.28" x2="279.30" y2="355.28" stroke="#3c3c3c" stroke-width="1.1"/>
<rect x="261.50" y="358.32" width="24.20" height="6.07" fill="none" stroke="#3c3c3c" stroke-width="1.1" rx="0.6"/>
<line x1="261.50" y1="361.35" x2="285.70" y2="361.35" stroke="#3c3c3c" stroke-width="1.1"/>
<circle cx="271.83" cy="355.28" r="1.5" fill="#22f522"/>
<circle cx="275.38" cy="355.28" r="1.5" fill="#22f522"/>
<circle cx="270.05" cy="358.32" r="1.5" fill="#22f522"/>
<circle cx="273.60" cy="358.32" r="1.5" fill="#22f522"/>
<circle cx="277.15" cy="358.32" r="1.5" fill="#22f522"/>
<circle cx="266.50" cy="361.35" r="1.5" fill="#22f522"/>
<circle cx="270.05" cy="361.35" r="1.5" fill="#22f522"/>
<circle cx="273.60" cy="361.35" r="1.5" fill="#22f522"/>
<circle cx="277.15" cy="361.35" r="1.5" fill="#22f522"/>
<circle cx="280.70" cy="361.35" r="1.5" fill="#22f522"/>
<circle cx="266.50" cy="364.39" r="1.5" fill="#22f522"/>
<circle cx="270.05" cy="364.39" r="1.5" fill="#22f522"/>
<circle cx="273.60" cy="364.39" r="1.5" fill="#22f522"/>
<circle cx="277.15" cy="364.39" r="1.5" fill="#22f522"/>
<circle cx="280.70" cy="364.39" r="1.5" fill="#22f522"/>
<line x1="309.60" y1="306.69" x2="309.60" y2="294.55" stroke="#3c3c3c" stroke-width="1.0"/>
<line x1="303.90" y1="294.55" x2="315.30" y2="294.55" stroke="#3c3c3c" stroke-width="1.1"/>
<line x1="309.60" y1="324.91" x2="309.60" y2="327.95" stroke="#3c3c3c" stroke-width="1.0"/>
<line x1="303.90" y1="327.95" x2="315.30" y2="327.95" stroke="#3c3c3c" stroke-width="1.1"/>
<rect x="297.50" y="306.69" width="24.20" height="18.22" fill="none" stroke="#3c3c3c" stroke-width="1.1" rx="0.6"/>
<line x1="297.50" y1="318.84" x2="321.70" y2="318.84" stroke="#3c3c3c" stroke-width="1.1"/>
<circle cx="309.60" cy="294.55" r="1.5" fill="#ff1a1a"/>
<circle cx="309.60" cy="297.58" r="1.5" fill="#ff1a1a"/>
<circle cx="309.60" cy="303.66" r="1.5" fill="#ff1a1a"/>
<circle cx="309.60" cy="306.69" r="1.5" fill="#ff1a1a"/>
<circle cx="307.83" cy="312.77" r="1.5" fill="#ff1a1a"/>
<circle cx="311.38" cy="312.77" r="1.5" fill="#ff1a1a"/>
<circle cx="309.60" cy="315.80" r="1.5" fill="#ff1a1a"/>
<circle cx="309.60" cy="318.84" r="1.5" fill="#ff1a1a"/>
<circle cx="304.28" cy="324.91" r="1.5" fill="#ff1a1a"/>
<circle cx="307.83" cy="324.91" r="1.5" fill="#ff1a1a"/>
<circle cx="311.38" cy="324.91" r="1.5" fill="#ff1a1a"/>
<circle cx="314.93" cy="324.91" r="1.5" fill="#ff1a1a"/>
<circle cx="306.05" cy="327.95" r="1.5" fill="#ff1a1a"/>
<circle cx="309.60" cy="327.95" r="1.5" fill="#ff1a1a"/>
<circle cx="313.15" cy="327.95" r="1.5" fill="#ff1a1a"/>
<line x1="271.10" y1="287.20" x2="305.10" y2="287.20" stroke="#111" stroke-width="1.5"/>
<text x="270.77" y="278.20" font-size="7.6" fill="#1e1e1e" stroke="#1e1e1e" stroke-width="0.15" textLength="34.43" lengthAdjust="spacingAndGlyphs"><tspan font-style="italic">P</tspan><tspan font-size="5.6" dy="-0.3"> &lt; </tspan><tspan dy="0.3">0.0001</tspan></text>
<path d="M281.30,281.90 L283.70,283.70 M283.70,281.90 L281.30,283.70 M281.20,282.80 L283.80,282.80" stroke="#333" stroke-width="0.9"/>
<path d="M285.05,281.90 L287.45,283.70 M287.45,281.90 L285.05,283.70 M284.95,282.80 L287.55,282.80" stroke="#333" stroke-width="0.9"/>
<path d="M288.80,281.90 L291.20,283.70 M291.20,281.90 L288.80,283.70 M288.70,282.80 L291.30,282.80" stroke="#333" stroke-width="0.9"/>
<path d="M292.55,281.90 L294.95,283.70 M294.95,281.90 L292.55,283.70 M292.45,282.80 L295.05,282.80" stroke="#333" stroke-width="0.9"/>
<text transform="translate(223.30,369.45) rotate(-90)" x="-0.80" y="0" font-size="9.6" fill="#1e1e1e" stroke="#1e1e1e" stroke-width="0.22" textLength="81.33" lengthAdjust="spacingAndGlyphs">Double-yolked egg</text>
<line x1="380.60" y1="13.90" x2="380.60" y2="104.30" stroke="#3c3c3c" stroke-width="1.0"/>
<line x1="377.80" y1="13.90" x2="380.60" y2="13.90" stroke="#3c3c3c" stroke-width="1.0"/>
<text x="364.99" y="16.20" font-size="8.0" fill="#1e1e1e" stroke="#1e1e1e" stroke-width="0.16" textLength="11.48" lengthAdjust="spacingAndGlyphs">150</text>
<line x1="377.80" y1="44.03" x2="380.60" y2="44.03" stroke="#3c3c3c" stroke-width="1.0"/>
<text x="364.99" y="46.33" font-size="8.0" fill="#1e1e1e" stroke="#1e1e1e" stroke-width="0.16" textLength="11.48" lengthAdjust="spacingAndGlyphs">100</text>
<line x1="377.80" y1="74.17" x2="380.60" y2="74.17" stroke="#3c3c3c" stroke-width="1.0"/>
<text x="368.82" y="76.47" font-size="8.0" fill="#1e1e1e" stroke="#1e1e1e" stroke-width="0.16" textLength="7.65" lengthAdjust="spacingAndGlyphs">50</text>
<line x1="377.80" y1="104.30" x2="380.60" y2="104.30" stroke="#3c3c3c" stroke-width="1.0"/>
<text x="372.64" y="106.60" font-size="8.0" fill="#1e1e1e" stroke="#1e1e1e" stroke-width="0.16" textLength="3.83" lengthAdjust="spacingAndGlyphs">0</text>
<line x1="380.60" y1="104.30" x2="542.50" y2="104.30" stroke="#3c3c3c" stroke-width="1.0"/>
<line x1="381.40" y1="104.30" x2="381.40" y2="106.70" stroke="#3c3c3c" stroke-width="1.0"/>
<text transform="translate(383.00,115.60) rotate(-45)" font-size="8.2" text-anchor="end" fill="#1e1e1e" stroke="#1e1e1e" stroke-width="0.35">1</text>
<line x1="397.75" y1="104.30" x2="397.75" y2="106.70" stroke="#3c3c3c" stroke-width="1.0"/>
<text transform="translate(399.35,115.60) rotate(-45)" font-size="8.2" text-anchor="end" fill="#1e1e1e" stroke="#1e1e1e" stroke-width="0.35">7</text>
<line x1="414.10" y1="104.30" x2="414.10" y2="106.70" stroke="#3c3c3c" stroke-width="1.0"/>
<text transform="translate(415.70,115.60) rotate(-45)" font-size="8.2" text-anchor="end" fill="#1e1e1e" stroke="#1e1e1e" stroke-width="0.35">13</text>
<line x1="430.45" y1="104.30" x2="430.45" y2="106.70" stroke="#3c3c3c" stroke-width="1.0"/>
<text transform="translate(432.05,115.60) rotate(-45)" font-size="8.2" text-anchor="end" fill="#1e1e1e" stroke="#1e1e1e" stroke-width="0.35">19</text>
<line x1="446.80" y1="104.30" x2="446.80" y2="106.70" stroke="#3c3c3c" stroke-width="1.0"/>
<text transform="translate(448.40,115.60) rotate(-45)" font-size="8.2" text-anchor="end" fill="#1e1e1e" stroke="#1e1e1e" stroke-width="0.35">25</text>
<line x1="463.15" y1="104.30" x2="463.15" y2="106.70" stroke="#3c3c3c" stroke-width="1.0"/>
<text transform="translate(464.75,115.60) rotate(-45)" font-size="8.2" text-anchor="end" fill="#1e1e1e" stroke="#1e1e1e" stroke-width="0.35">31</text>
<line x1="479.50" y1="104.30" x2="479.50" y2="106.70" stroke="#3c3c3c" stroke-width="1.0"/>
<text transform="translate(481.10,115.60) rotate(-45)" font-size="8.2" text-anchor="end" fill="#1e1e1e" stroke="#1e1e1e" stroke-width="0.35">37</text>
<line x1="495.85" y1="104.30" x2="495.85" y2="106.70" stroke="#3c3c3c" stroke-width="1.0"/>
<text transform="translate(497.45,115.60) rotate(-45)" font-size="8.2" text-anchor="end" fill="#1e1e1e" stroke="#1e1e1e" stroke-width="0.35">43</text>
<line x1="512.20" y1="104.30" x2="512.20" y2="106.70" stroke="#3c3c3c" stroke-width="1.0"/>
<text transform="translate(513.80,115.60) rotate(-45)" font-size="8.2" text-anchor="end" fill="#1e1e1e" stroke="#1e1e1e" stroke-width="0.35">49</text>
<line x1="528.55" y1="104.30" x2="528.55" y2="106.70" stroke="#3c3c3c" stroke-width="1.0"/>
<text transform="translate(530.15,115.60) rotate(-45)" font-size="8.2" text-anchor="end" fill="#1e1e1e" stroke="#1e1e1e" stroke-width="0.35">55</text>
<circle cx="381.40" cy="88.63" r="1.35" fill="#22f522"/>
<circle cx="384.12" cy="89.23" r="1.35" fill="#22f522"/>
<circle cx="386.85" cy="90.44" r="1.35" fill="#22f522"/>
<circle cx="389.57" cy="91.04" r="1.35" fill="#22f522"/>
<circle cx="392.30" cy="92.25" r="1.35" fill="#22f522"/>
<circle cx="395.02" cy="92.25" r="1.35" fill="#22f522"/>
<circle cx="397.75" cy="92.85" r="1.35" fill="#22f522"/>
<circle cx="400.47" cy="93.45" r="1.35" fill="#22f522"/>
<circle cx="403.20" cy="94.66" r="1.35" fill="#22f522"/>
<circle cx="405.92" cy="94.66" r="1.35" fill="#22f522"/>
<circle cx="408.65" cy="94.66" r="1.35" fill="#22f522"/>
<circle cx="411.38" cy="94.66" r="1.35" fill="#22f522"/>
<circle cx="414.10" cy="95.26" r="1.35" fill="#22f522"/>
<circle cx="416.82" cy="95.26" r="1.35" fill="#22f522"/>
<circle cx="419.55" cy="95.26" r="1.35" fill="#22f522"/>
<circle cx="422.27" cy="95.86" r="1.35" fill="#22f522"/>
<circle cx="425.00" cy="95.86" r="1.35" fill="#22f522"/>
<circle cx="427.72" cy="95.86" r="1.35" fill="#22f522"/>
<circle cx="430.45" cy="97.07" r="1.35" fill="#22f522"/>
<circle cx="433.17" cy="97.07" r="1.35" fill="#22f522"/>
<circle cx="435.90" cy="97.07" r="1.35" fill="#22f522"/>
<circle cx="438.62" cy="97.67" r="1.35" fill="#22f522"/>
<circle cx="441.35" cy="98.27" r="1.35" fill="#22f522"/>
<circle cx="444.07" cy="98.27" r="1.35" fill="#22f522"/>
<circle cx="446.80" cy="98.88" r="1.35" fill="#22f522"/>
<circle cx="449.52" cy="98.88" r="1.35" fill="#22f522"/>
<circle cx="452.25" cy="99.48" r="1.35" fill="#22f522"/>
<circle cx="454.97" cy="99.48" r="1.35" fill="#22f522"/>
<circle cx="457.70" cy="99.48" r="1.35" fill="#22f522"/>
<circle cx="460.42" cy="99.48" r="1.35" fill="#22f522"/>
<circle cx="463.15" cy="100.08" r="1.35" fill="#22f522"/>
<circle cx="465.88" cy="100.08" r="1.35" fill="#22f522"/>
<circle cx="468.60" cy="100.08" r="1.35" fill="#22f522"/>
<circle cx="471.32" cy="100.08" r="1.35" fill="#22f522"/>
<circle cx="474.05" cy="100.08" r="1.35" fill="#22f522"/>
<circle cx="476.77" cy="100.68" r="1.35" fill="#22f522"/>
<circle cx="479.50" cy="100.68" r="1.35" fill="#22f522"/>
<circle cx="482.22" cy="100.68" r="1.35" fill="#22f522"/>
<circle cx="484.95" cy="100.68" r="1.35" fill="#22f522"/>
<circle cx="487.67" cy="100.68" r="1.35" fill="#22f522"/>
<circle cx="490.40" cy="100.68" r="1.35" fill="#22f522"/>
<circle cx="493.12" cy="100.68" r="1.35" fill="#22f522"/>
<circle cx="495.85" cy="100.68" r="1.35" fill="#22f522"/>
<circle cx="498.57" cy="100.68" r="1.35" fill="#22f522"/>
<circle cx="501.30" cy="100.68" r="1.35" fill="#22f522"/>
<circle cx="504.02" cy="100.68" r="1.35" fill="#22f522"/>
<circle cx="506.75" cy="101.29" r="1.35" fill="#22f522"/>
<circle cx="509.48" cy="101.29" r="1.35" fill="#22f522"/>
<circle cx="512.20" cy="101.89" r="1.35" fill="#22f522"/>
<circle cx="514.92" cy="101.89" r="1.35" fill="#22f522"/>
<circle cx="517.65" cy="101.89" r="1.35" fill="#22f522"/>
<circle cx="520.38" cy="101.89" r="1.35" fill="#22f522"/>
<circle cx="523.10" cy="101.89" r="1.35" fill="#22f522"/>
<circle cx="525.83" cy="102.49" r="1.35" fill="#22f522"/>
<circle cx="528.55" cy="102.49" r="1.35" fill="#22f522"/>
<circle cx="531.27" cy="102.49" r="1.35" fill="#22f522"/>
<circle cx="534.00" cy="102.49" r="1.35" fill="#22f522"/>
<circle cx="536.73" cy="102.49" r="1.35" fill="#22f522"/>
<circle cx="539.45" cy="102.49" r="1.35" fill="#22f522"/>
<circle cx="542.17" cy="103.09" r="1.35" fill="#22f522"/>
<circle cx="381.40" cy="53.68" r="1.4" fill="#ff1a1a"/>
<circle cx="384.12" cy="50.06" r="1.4" fill="#ff1a1a"/>
<circle cx="386.85" cy="51.87" r="1.4" fill="#ff1a1a"/>
<circle cx="389.57" cy="50.66" r="1.4" fill="#ff1a1a"/>
<circle cx="392.30" cy="49.46" r="1.4" fill="#ff1a1a"/>
<circle cx="395.02" cy="50.66" r="1.4" fill="#ff1a1a"/>
<circle cx="397.75" cy="55.48" r="1.4" fill="#ff1a1a"/>
<circle cx="400.47" cy="45.84" r="1.4" fill="#ff1a1a"/>
<circle cx="403.20" cy="48.25" r="1.4" fill="#ff1a1a"/>
<circle cx="405.92" cy="50.06" r="1.4" fill="#ff1a1a"/>
<circle cx="408.65" cy="52.47" r="1.4" fill="#ff1a1a"/>
<circle cx="411.38" cy="54.88" r="1.4" fill="#ff1a1a"/>
<circle cx="414.10" cy="51.27" r="1.4" fill="#ff1a1a"/>
<circle cx="416.82" cy="53.68" r="1.4" fill="#ff1a1a"/>
<circle cx="419.55" cy="57.89" r="1.4" fill="#ff1a1a"/>
<circle cx="422.27" cy="48.25" r="1.4" fill="#ff1a1a"/>
<circle cx="425.00" cy="50.06" r="1.4" fill="#ff1a1a"/>
<circle cx="427.72" cy="54.88" r="1.4" fill="#ff1a1a"/>
<circle cx="430.45" cy="50.06" r="1.4" fill="#ff1a1a"/>
<circle cx="433.17" cy="56.09" r="1.4" fill="#ff1a1a"/>
<circle cx="435.90" cy="57.29" r="1.4" fill="#ff1a1a"/>
<circle cx="438.62" cy="51.87" r="1.4" fill="#ff1a1a"/>
<circle cx="441.35" cy="48.25" r="1.4" fill="#ff1a1a"/>
<circle cx="444.07" cy="48.85" r="1.4" fill="#ff1a1a"/>
<circle cx="446.80" cy="48.85" r="1.4" fill="#ff1a1a"/>
<circle cx="449.52" cy="51.27" r="1.4" fill="#ff1a1a"/>
<circle cx="452.25" cy="48.25" r="1.4" fill="#ff1a1a"/>
<circle cx="454.97" cy="48.85" r="1.4" fill="#ff1a1a"/>
<circle cx="457.70" cy="49.46" r="1.4" fill="#ff1a1a"/>
<circle cx="460.42" cy="53.68" r="1.4" fill="#ff1a1a"/>
<circle cx="463.15" cy="50.66" r="1.4" fill="#ff1a1a"/>
<circle cx="465.88" cy="50.66" r="1.4" fill="#ff1a1a"/>
<circle cx="468.60" cy="51.27" r="1.4" fill="#ff1a1a"/>
<circle cx="471.32" cy="53.07" r="1.4" fill="#ff1a1a"/>
<circle cx="474.05" cy="42.83" r="1.4" fill="#ff1a1a"/>
<circle cx="476.77" cy="47.65" r="1.4" fill="#ff1a1a"/>
<circle cx="479.50" cy="50.06" r="1.4" fill="#ff1a1a"/>
<circle cx="482.22" cy="50.06" r="1.4" fill="#ff1a1a"/>
<circle cx="484.95" cy="50.06" r="1.4" fill="#ff1a1a"/>
<circle cx="487.67" cy="51.87" r="1.4" fill="#ff1a1a"/>
<circle cx="490.40" cy="52.47" r="1.4" fill="#ff1a1a"/>
<circle cx="493.12" cy="52.47" r="1.4" fill="#ff1a1a"/>
<circle cx="495.85" cy="52.47" r="1.4" fill="#ff1a1a"/>
<circle cx="498.57" cy="53.68" r="1.4" fill="#ff1a1a"/>
<circle cx="501.30" cy="53.68" r="1.4" fill="#ff1a1a"/>
<circle cx="504.02" cy="56.69" r="1.4" fill="#ff1a1a"/>
<circle cx="506.75" cy="45.84" r="1.4" fill="#ff1a1a"/>
<circle cx="509.48" cy="51.27" r="1.4" fill="#ff1a1a"/>
<circle cx="512.20" cy="57.29" r="1.4" fill="#ff1a1a"/>
<circle cx="514.92" cy="47.05" r="1.4" fill="#ff1a1a"/>
<circle cx="517.65" cy="48.25" r="1.4" fill="#ff1a1a"/>
<circle cx="520.38" cy="48.85" r="1.4" fill="#ff1a1a"/>
<circle cx="523.10" cy="50.66" r="1.4" fill="#ff1a1a"/>
<circle cx="525.83" cy="51.87" r="1.4" fill="#ff1a1a"/>
<circle cx="528.55" cy="46.44" r="1.4" fill="#ff1a1a"/>
<circle cx="531.27" cy="50.66" r="1.4" fill="#ff1a1a"/>
<circle cx="534.00" cy="53.07" r="1.4" fill="#ff1a1a"/>
<circle cx="536.73" cy="55.48" r="1.4" fill="#ff1a1a"/>
<circle cx="539.45" cy="56.09" r="1.4" fill="#ff1a1a"/>
<circle cx="542.17" cy="47.65" r="1.4" fill="#ff1a1a"/>
<circle cx="387.00" cy="19.80" r="2.0" fill="#ff1a1a"/>
<circle cx="387.00" cy="31.80" r="2.0" fill="#22f522"/>
<text x="392.30" y="22.60" font-size="8.4" fill="#1e1e1e" stroke="#1e1e1e" stroke-width="0.15" textLength="71.96" lengthAdjust="spacingAndGlyphs">Number of Total egg</text>
<text x="392.29" y="34.30" font-size="8.4" fill="#1e1e1e" stroke="#1e1e1e" stroke-width="0.15" textLength="107.59" lengthAdjust="spacingAndGlyphs">Number of Double-yolked egg</text>
<text x="441.85" y="75.70" font-size="7.9" fill="#1e1e1e" stroke="#1e1e1e" stroke-width="0.18" textLength="32.31" lengthAdjust="spacingAndGlyphs">r=-0.7905</text>
<text transform="translate(353.80,84.65) rotate(-90)" x="-0.50" y="0" font-size="9.9" fill="#1e1e1e" stroke="#1e1e1e" stroke-width="0.22" textLength="48.24" lengthAdjust="spacingAndGlyphs">Correlation</text>
<line x1="380.50" y1="147.00" x2="380.50" y2="237.90" stroke="#3c3c3c" stroke-width="1.0"/>
<line x1="377.70" y1="147.00" x2="380.50" y2="147.00" stroke="#3c3c3c" stroke-width="1.0"/>
<text x="363.99" y="149.30" font-size="8.0" fill="#1e1e1e" stroke="#1e1e1e" stroke-width="0.16" textLength="11.48" lengthAdjust="spacingAndGlyphs">150</text>
<line x1="377.70" y1="177.30" x2="380.50" y2="177.30" stroke="#3c3c3c" stroke-width="1.0"/>
<text x="363.99" y="179.60" font-size="8.0" fill="#1e1e1e" stroke="#1e1e1e" stroke-width="0.16" textLength="11.48" lengthAdjust="spacingAndGlyphs">100</text>
<line x1="377.70" y1="207.60" x2="380.50" y2="207.60" stroke="#3c3c3c" stroke-width="1.0"/>
<text x="367.82" y="209.90" font-size="8.0" fill="#1e1e1e" stroke="#1e1e1e" stroke-width="0.16" textLength="7.65" lengthAdjust="spacingAndGlyphs">50</text>
<line x1="377.70" y1="237.90" x2="380.50" y2="237.90" stroke="#3c3c3c" stroke-width="1.0"/>
<text x="371.64" y="240.20" font-size="8.0" fill="#1e1e1e" stroke="#1e1e1e" stroke-width="0.16" textLength="3.83" lengthAdjust="spacingAndGlyphs">0</text>
<line x1="380.50" y1="237.90" x2="542.50" y2="237.90" stroke="#3c3c3c" stroke-width="1.0"/>
<line x1="381.20" y1="237.90" x2="381.20" y2="240.30" stroke="#3c3c3c" stroke-width="1.0"/>
<text transform="translate(382.80,249.20) rotate(-45)" font-size="8.2" text-anchor="end" fill="#1e1e1e" stroke="#1e1e1e" stroke-width="0.35">1</text>
<line x1="397.55" y1="237.90" x2="397.55" y2="240.30" stroke="#3c3c3c" stroke-width="1.0"/>
<text transform="translate(399.15,249.20) rotate(-45)" font-size="8.2" text-anchor="end" fill="#1e1e1e" stroke="#1e1e1e" stroke-width="0.35">7</text>
<line x1="413.90" y1="237.90" x2="413.90" y2="240.30" stroke="#3c3c3c" stroke-width="1.0"/>
<text transform="translate(415.50,249.20) rotate(-45)" font-size="8.2" text-anchor="end" fill="#1e1e1e" stroke="#1e1e1e" stroke-width="0.35">13</text>
<line x1="430.25" y1="237.90" x2="430.25" y2="240.30" stroke="#3c3c3c" stroke-width="1.0"/>
<text transform="translate(431.85,249.20) rotate(-45)" font-size="8.2" text-anchor="end" fill="#1e1e1e" stroke="#1e1e1e" stroke-width="0.35">19</text>
<line x1="446.60" y1="237.90" x2="446.60" y2="240.30" stroke="#3c3c3c" stroke-width="1.0"/>
<text transform="translate(448.20,249.20) rotate(-45)" font-size="8.2" text-anchor="end" fill="#1e1e1e" stroke="#1e1e1e" stroke-width="0.35">25</text>
<line x1="462.95" y1="237.90" x2="462.95" y2="240.30" stroke="#3c3c3c" stroke-width="1.0"/>
<text transform="translate(464.55,249.20) rotate(-45)" font-size="8.2" text-anchor="end" fill="#1e1e1e" stroke="#1e1e1e" stroke-width="0.35">31</text>
<line x1="479.30" y1="237.90" x2="479.30" y2="240.30" stroke="#3c3c3c" stroke-width="1.0"/>
<text transform="translate(480.90,249.20) rotate(-45)" font-size="8.2" text-anchor="end" fill="#1e1e1e" stroke="#1e1e1e" stroke-width="0.35">37</text>
<line x1="495.65" y1="237.90" x2="495.65" y2="240.30" stroke="#3c3c3c" stroke-width="1.0"/>
<text transform="translate(497.25,249.20) rotate(-45)" font-size="8.2" text-anchor="end" fill="#1e1e1e" stroke="#1e1e1e" stroke-width="0.35">43</text>
<line x1="512.00" y1="237.90" x2="512.00" y2="240.30" stroke="#3c3c3c" stroke-width="1.0"/>
<text transform="translate(513.60,249.20) rotate(-45)" font-size="8.2" text-anchor="end" fill="#1e1e1e" stroke="#1e1e1e" stroke-width="0.35">49</text>
<line x1="528.35" y1="237.90" x2="528.35" y2="240.30" stroke="#3c3c3c" stroke-width="1.0"/>
<text transform="translate(529.95,249.20) rotate(-45)" font-size="8.2" text-anchor="end" fill="#1e1e1e" stroke="#1e1e1e" stroke-width="0.35">55</text>
<circle cx="381.20" cy="222.14" r="1.35" fill="#22f522"/>
<circle cx="383.93" cy="222.75" r="1.35" fill="#22f522"/>
<circle cx="386.65" cy="223.96" r="1.35" fill="#22f522"/>
<circle cx="389.38" cy="224.57" r="1.35" fill="#22f522"/>
<circle cx="392.10" cy="225.78" r="1.35" fill="#22f522"/>
<circle cx="394.82" cy="225.78" r="1.35" fill="#22f522"/>
<circle cx="397.55" cy="226.39" r="1.35" fill="#22f522"/>
<circle cx="400.27" cy="226.99" r="1.35" fill="#22f522"/>
<circle cx="403.00" cy="228.20" r="1.35" fill="#22f522"/>
<circle cx="405.72" cy="228.20" r="1.35" fill="#22f522"/>
<circle cx="408.45" cy="228.20" r="1.35" fill="#22f522"/>
<circle cx="411.18" cy="228.20" r="1.35" fill="#22f522"/>
<circle cx="413.90" cy="228.81" r="1.35" fill="#22f522"/>
<circle cx="416.62" cy="228.81" r="1.35" fill="#22f522"/>
<circle cx="419.35" cy="228.81" r="1.35" fill="#22f522"/>
<circle cx="422.07" cy="229.42" r="1.35" fill="#22f522"/>
<circle cx="424.80" cy="229.42" r="1.35" fill="#22f522"/>
<circle cx="427.52" cy="229.42" r="1.35" fill="#22f522"/>
<circle cx="430.25" cy="230.63" r="1.35" fill="#22f522"/>
<circle cx="432.97" cy="230.63" r="1.35" fill="#22f522"/>
<circle cx="435.70" cy="230.63" r="1.35" fill="#22f522"/>
<circle cx="438.43" cy="231.23" r="1.35" fill="#22f522"/>
<circle cx="441.15" cy="231.84" r="1.35" fill="#22f522"/>
<circle cx="443.88" cy="231.84" r="1.35" fill="#22f522"/>
<circle cx="446.60" cy="232.45" r="1.35" fill="#22f522"/>
<circle cx="449.32" cy="232.45" r="1.35" fill="#22f522"/>
<circle cx="452.05" cy="233.05" r="1.35" fill="#22f522"/>
<circle cx="454.77" cy="233.05" r="1.35" fill="#22f522"/>
<circle cx="457.50" cy="233.05" r="1.35" fill="#22f522"/>
<circle cx="460.23" cy="233.05" r="1.35" fill="#22f522"/>
<circle cx="462.95" cy="233.66" r="1.35" fill="#22f522"/>
<circle cx="465.68" cy="233.66" r="1.35" fill="#22f522"/>
<circle cx="468.40" cy="233.66" r="1.35" fill="#22f522"/>
<circle cx="471.12" cy="233.66" r="1.35" fill="#22f522"/>
<circle cx="473.85" cy="233.66" r="1.35" fill="#22f522"/>
<circle cx="476.57" cy="234.26" r="1.35" fill="#22f522"/>
<circle cx="479.30" cy="234.26" r="1.35" fill="#22f522"/>
<circle cx="482.02" cy="234.26" r="1.35" fill="#22f522"/>
<circle cx="484.75" cy="234.26" r="1.35" fill="#22f522"/>
<circle cx="487.48" cy="234.26" r="1.35" fill="#22f522"/>
<circle cx="490.20" cy="234.26" r="1.35" fill="#22f522"/>
<circle cx="492.93" cy="234.26" r="1.35" fill="#22f522"/>
<circle cx="495.65" cy="234.26" r="1.35" fill="#22f522"/>
<circle cx="498.38" cy="234.26" r="1.35" fill="#22f522"/>
<circle cx="501.10" cy="234.26" r="1.35" fill="#22f522"/>
<circle cx="503.82" cy="234.26" r="1.35" fill="#22f522"/>
<circle cx="506.55" cy="234.87" r="1.35" fill="#22f522"/>
<circle cx="509.27" cy="234.87" r="1.35" fill="#22f522"/>
<circle cx="512.00" cy="235.48" r="1.35" fill="#22f522"/>
<circle cx="514.73" cy="235.48" r="1.35" fill="#22f522"/>
<circle cx="517.45" cy="235.48" r="1.35" fill="#22f522"/>
<circle cx="520.17" cy="235.48" r="1.35" fill="#22f522"/>
<circle cx="522.90" cy="235.48" r="1.35" fill="#22f522"/>
<circle cx="525.62" cy="236.08" r="1.35" fill="#22f522"/>
<circle cx="528.35" cy="236.08" r="1.35" fill="#22f522"/>
<circle cx="531.08" cy="236.08" r="1.35" fill="#22f522"/>
<circle cx="533.80" cy="236.08" r="1.35" fill="#22f522"/>
<circle cx="536.52" cy="236.08" r="1.35" fill="#22f522"/>
<circle cx="539.25" cy="236.08" r="1.35" fill="#22f522"/>
<circle cx="541.98" cy="236.69" r="1.35" fill="#22f522"/>
<circle cx="381.20" cy="202.75" r="1.4" fill="#ff1a1a"/>
<circle cx="383.93" cy="198.51" r="1.4" fill="#ff1a1a"/>
<circle cx="386.65" cy="199.12" r="1.4" fill="#ff1a1a"/>
<circle cx="389.38" cy="197.30" r="1.4" fill="#ff1a1a"/>
<circle cx="392.10" cy="194.87" r="1.4" fill="#ff1a1a"/>
<circle cx="394.82" cy="196.09" r="1.4" fill="#ff1a1a"/>
<circle cx="397.55" cy="200.33" r="1.4" fill="#ff1a1a"/>
<circle cx="400.27" cy="190.03" r="1.4" fill="#ff1a1a"/>
<circle cx="403.00" cy="191.24" r="1.4" fill="#ff1a1a"/>
<circle cx="405.72" cy="193.06" r="1.4" fill="#ff1a1a"/>
<circle cx="408.45" cy="195.48" r="1.4" fill="#ff1a1a"/>
<circle cx="411.18" cy="197.90" r="1.4" fill="#ff1a1a"/>
<circle cx="413.90" cy="193.66" r="1.4" fill="#ff1a1a"/>
<circle cx="416.62" cy="196.09" r="1.4" fill="#ff1a1a"/>
<circle cx="419.35" cy="200.33" r="1.4" fill="#ff1a1a"/>
<circle cx="422.07" cy="190.03" r="1.4" fill="#ff1a1a"/>
<circle cx="424.80" cy="191.84" r="1.4" fill="#ff1a1a"/>
<circle cx="427.52" cy="196.69" r="1.4" fill="#ff1a1a"/>
<circle cx="430.25" cy="190.63" r="1.4" fill="#ff1a1a"/>
<circle cx="432.97" cy="196.69" r="1.4" fill="#ff1a1a"/>
<circle cx="435.70" cy="197.90" r="1.4" fill="#ff1a1a"/>
<circle cx="438.43" cy="191.84" r="1.4" fill="#ff1a1a"/>
<circle cx="441.15" cy="187.60" r="1.4" fill="#ff1a1a"/>
<circle cx="443.88" cy="188.21" r="1.4" fill="#ff1a1a"/>
<circle cx="446.60" cy="187.60" r="1.4" fill="#ff1a1a"/>
<circle cx="449.32" cy="190.03" r="1.4" fill="#ff1a1a"/>
<circle cx="452.05" cy="186.39" r="1.4" fill="#ff1a1a"/>
<circle cx="454.77" cy="187.00" r="1.4" fill="#ff1a1a"/>
<circle cx="457.50" cy="187.60" r="1.4" fill="#ff1a1a"/>
<circle cx="460.23" cy="191.84" r="1.4" fill="#ff1a1a"/>
<circle cx="462.95" cy="188.21" r="1.4" fill="#ff1a1a"/>
<circle cx="465.68" cy="188.21" r="1.4" fill="#ff1a1a"/>
<circle cx="468.40" cy="188.81" r="1.4" fill="#ff1a1a"/>
<circle cx="471.12" cy="190.63" r="1.4" fill="#ff1a1a"/>
<circle cx="473.85" cy="180.33" r="1.4" fill="#ff1a1a"/>
<circle cx="476.57" cy="184.57" r="1.4" fill="#ff1a1a"/>
<circle cx="479.30" cy="187.00" r="1.4" fill="#ff1a1a"/>
<circle cx="482.02" cy="187.00" r="1.4" fill="#ff1a1a"/>
<circle cx="484.75" cy="187.00" r="1.4" fill="#ff1a1a"/>
<circle cx="487.48" cy="188.81" r="1.4" fill="#ff1a1a"/>
<circle cx="490.20" cy="189.42" r="1.4" fill="#ff1a1a"/>
<circle cx="492.93" cy="189.42" r="1.4" fill="#ff1a1a"/>
<circle cx="495.65" cy="189.42" r="1.4" fill="#ff1a1a"/>
<circle cx="498.38" cy="190.63" r="1.4" fill="#ff1a1a"/>
<circle cx="501.10" cy="190.63" r="1.4" fill="#ff1a1a"/>
<circle cx="503.82" cy="193.66" r="1.4" fill="#ff1a1a"/>
<circle cx="506.55" cy="182.15" r="1.4" fill="#ff1a1a"/>
<circle cx="509.27" cy="187.60" r="1.4" fill="#ff1a1a"/>
<circle cx="512.00" cy="193.06" r="1.4" fill="#ff1a1a"/>
<circle cx="514.73" cy="182.75" r="1.4" fill="#ff1a1a"/>
<circle cx="517.45" cy="183.97" r="1.4" fill="#ff1a1a"/>
<circle cx="520.17" cy="184.57" r="1.4" fill="#ff1a1a"/>
<circle cx="522.90" cy="186.39" r="1.4" fill="#ff1a1a"/>
<circle cx="525.62" cy="187.00" r="1.4" fill="#ff1a1a"/>
<circle cx="528.35" cy="181.54" r="1.4" fill="#ff1a1a"/>
<circle cx="531.08" cy="185.78" r="1.4" fill="#ff1a1a"/>
<circle cx="533.80" cy="188.21" r="1.4" fill="#ff1a1a"/>
<circle cx="536.52" cy="190.63" r="1.4" fill="#ff1a1a"/>
<circle cx="539.25" cy="191.24" r="1.4" fill="#ff1a1a"/>
<circle cx="541.98" cy="182.15" r="1.4" fill="#ff1a1a"/>
<circle cx="389.90" cy="153.50" r="2.0" fill="#ff1a1a"/>
<circle cx="389.90" cy="164.80" r="2.0" fill="#22f522"/>
<text x="395.18" y="156.30" font-size="8.4" fill="#1e1e1e" stroke="#1e1e1e" stroke-width="0.15" textLength="104.69" lengthAdjust="spacingAndGlyphs">Number of Single-yolked egg</text>
<text x="395.18" y="167.40" font-size="8.4" fill="#1e1e1e" stroke="#1e1e1e" stroke-width="0.15" textLength="107.99" lengthAdjust="spacingAndGlyphs">Number of Double-yolked egg</text>
<text x="445.66" y="210.00" font-size="7.9" fill="#1e1e1e" stroke="#1e1e1e" stroke-width="0.18" textLength="31.74" lengthAdjust="spacingAndGlyphs">r=-0.1039</text>
<text transform="translate(354.30,220.15) rotate(-90)" x="-0.50" y="0" font-size="9.9" fill="#1e1e1e" stroke="#1e1e1e" stroke-width="0.22" textLength="48.55" lengthAdjust="spacingAndGlyphs">Correlation</text>
<line x1="377.30" y1="283.50" x2="377.30" y2="374.70" stroke="#3c3c3c" stroke-width="1.0"/>
<line x1="374.50" y1="283.50" x2="377.30" y2="283.50" stroke="#3c3c3c" stroke-width="1.0"/>
<text x="360.39" y="285.80" font-size="8.0" fill="#1e1e1e" stroke="#1e1e1e" stroke-width="0.16" textLength="11.48" lengthAdjust="spacingAndGlyphs">110</text>
<line x1="374.50" y1="298.70" x2="377.30" y2="298.70" stroke="#3c3c3c" stroke-width="1.0"/>
<text x="360.39" y="301.00" font-size="8.0" fill="#1e1e1e" stroke="#1e1e1e" stroke-width="0.16" textLength="11.48" lengthAdjust="spacingAndGlyphs">100</text>
<line x1="374.50" y1="313.90" x2="377.30" y2="313.90" stroke="#3c3c3c" stroke-width="1.0"/>
<text x="364.22" y="316.20" font-size="8.0" fill="#1e1e1e" stroke="#1e1e1e" stroke-width="0.16" textLength="7.65" lengthAdjust="spacingAndGlyphs">90</text>
<line x1="374.50" y1="329.10" x2="377.30" y2="329.10" stroke="#3c3c3c" stroke-width="1.0"/>
<text x="364.22" y="331.40" font-size="8.0" fill="#1e1e1e" stroke="#1e1e1e" stroke-width="0.16" textLength="7.65" lengthAdjust="spacingAndGlyphs">80</text>
<line x1="374.50" y1="344.30" x2="377.30" y2="344.30" stroke="#3c3c3c" stroke-width="1.0"/>
<text x="364.22" y="346.60" font-size="8.0" fill="#1e1e1e" stroke="#1e1e1e" stroke-width="0.16" textLength="7.65" lengthAdjust="spacingAndGlyphs">70</text>
<line x1="374.50" y1="359.50" x2="377.30" y2="359.50" stroke="#3c3c3c" stroke-width="1.0"/>
<text x="364.22" y="361.80" font-size="8.0" fill="#1e1e1e" stroke="#1e1e1e" stroke-width="0.16" textLength="7.65" lengthAdjust="spacingAndGlyphs">60</text>
<line x1="374.50" y1="374.70" x2="377.30" y2="374.70" stroke="#3c3c3c" stroke-width="1.0"/>
<text x="364.22" y="377.00" font-size="8.0" fill="#1e1e1e" stroke="#1e1e1e" stroke-width="0.16" textLength="7.65" lengthAdjust="spacingAndGlyphs">50</text>
<line x1="377.30" y1="374.70" x2="538.60" y2="374.70" stroke="#3c3c3c" stroke-width="1.0"/>
<line x1="377.80" y1="374.70" x2="377.80" y2="377.10" stroke="#3c3c3c" stroke-width="1.0"/>
<text transform="translate(379.40,386.00) rotate(-45)" font-size="8.2" text-anchor="end" fill="#1e1e1e" stroke="#1e1e1e" stroke-width="0.35">1</text>
<line x1="394.08" y1="374.70" x2="394.08" y2="377.10" stroke="#3c3c3c" stroke-width="1.0"/>
<text transform="translate(395.68,386.00) rotate(-45)" font-size="8.2" text-anchor="end" fill="#1e1e1e" stroke="#1e1e1e" stroke-width="0.35">7</text>
<line x1="410.37" y1="374.70" x2="410.37" y2="377.10" stroke="#3c3c3c" stroke-width="1.0"/>
<text transform="translate(411.97,386.00) rotate(-45)" font-size="8.2" text-anchor="end" fill="#1e1e1e" stroke="#1e1e1e" stroke-width="0.35">13</text>
<line x1="426.65" y1="374.70" x2="426.65" y2="377.10" stroke="#3c3c3c" stroke-width="1.0"/>
<text transform="translate(428.25,386.00) rotate(-45)" font-size="8.2" text-anchor="end" fill="#1e1e1e" stroke="#1e1e1e" stroke-width="0.35">19</text>
<line x1="442.94" y1="374.70" x2="442.94" y2="377.10" stroke="#3c3c3c" stroke-width="1.0"/>
<text transform="translate(444.54,386.00) rotate(-45)" font-size="8.2" text-anchor="end" fill="#1e1e1e" stroke="#1e1e1e" stroke-width="0.35">25</text>
<line x1="459.22" y1="374.70" x2="459.22" y2="377.10" stroke="#3c3c3c" stroke-width="1.0"/>
<text transform="translate(460.82,386.00) rotate(-45)" font-size="8.2" text-anchor="end" fill="#1e1e1e" stroke="#1e1e1e" stroke-width="0.35">31</text>
<line x1="475.50" y1="374.70" x2="475.50" y2="377.10" stroke="#3c3c3c" stroke-width="1.0"/>
<text transform="translate(477.10,386.00) rotate(-45)" font-size="8.2" text-anchor="end" fill="#1e1e1e" stroke="#1e1e1e" stroke-width="0.35">37</text>
<line x1="491.79" y1="374.70" x2="491.79" y2="377.10" stroke="#3c3c3c" stroke-width="1.0"/>
<text transform="translate(493.39,386.00) rotate(-45)" font-size="8.2" text-anchor="end" fill="#1e1e1e" stroke="#1e1e1e" stroke-width="0.35">43</text>
<line x1="508.07" y1="374.70" x2="508.07" y2="377.10" stroke="#3c3c3c" stroke-width="1.0"/>
<text transform="translate(509.67,386.00) rotate(-45)" font-size="8.2" text-anchor="end" fill="#1e1e1e" stroke="#1e1e1e" stroke-width="0.35">49</text>
<line x1="524.36" y1="374.70" x2="524.36" y2="377.10" stroke="#3c3c3c" stroke-width="1.0"/>
<text transform="translate(525.96,386.00) rotate(-45)" font-size="8.2" text-anchor="end" fill="#1e1e1e" stroke="#1e1e1e" stroke-width="0.35">55</text>
<circle cx="377.80" cy="362.54" r="1.35" fill="#22f522"/>
<circle cx="380.51" cy="351.90" r="1.35" fill="#22f522"/>
<circle cx="383.23" cy="353.42" r="1.35" fill="#22f522"/>
<circle cx="385.94" cy="348.86" r="1.35" fill="#22f522"/>
<circle cx="388.66" cy="342.78" r="1.35" fill="#22f522"/>
<circle cx="391.37" cy="345.82" r="1.35" fill="#22f522"/>
<circle cx="394.08" cy="356.46" r="1.35" fill="#22f522"/>
<circle cx="396.80" cy="330.62" r="1.35" fill="#22f522"/>
<circle cx="399.51" cy="333.66" r="1.35" fill="#22f522"/>
<circle cx="402.23" cy="338.22" r="1.35" fill="#22f522"/>
<circle cx="404.94" cy="344.30" r="1.35" fill="#22f522"/>
<circle cx="407.65" cy="350.38" r="1.35" fill="#22f522"/>
<circle cx="410.37" cy="339.74" r="1.35" fill="#22f522"/>
<circle cx="413.08" cy="345.82" r="1.35" fill="#22f522"/>
<circle cx="415.80" cy="356.46" r="1.35" fill="#22f522"/>
<circle cx="418.51" cy="330.62" r="1.35" fill="#22f522"/>
<circle cx="421.22" cy="335.18" r="1.35" fill="#22f522"/>
<circle cx="423.94" cy="347.34" r="1.35" fill="#22f522"/>
<circle cx="426.65" cy="332.14" r="1.35" fill="#22f522"/>
<circle cx="429.37" cy="347.34" r="1.35" fill="#22f522"/>
<circle cx="432.08" cy="350.38" r="1.35" fill="#22f522"/>
<circle cx="434.79" cy="335.18" r="1.35" fill="#22f522"/>
<circle cx="437.51" cy="324.54" r="1.35" fill="#22f522"/>
<circle cx="440.22" cy="326.06" r="1.35" fill="#22f522"/>
<circle cx="442.94" cy="324.54" r="1.35" fill="#22f522"/>
<circle cx="445.65" cy="330.62" r="1.35" fill="#22f522"/>
<circle cx="448.36" cy="321.50" r="1.35" fill="#22f522"/>
<circle cx="451.08" cy="323.02" r="1.35" fill="#22f522"/>
<circle cx="453.79" cy="324.54" r="1.35" fill="#22f522"/>
<circle cx="456.51" cy="335.18" r="1.35" fill="#22f522"/>
<circle cx="459.22" cy="326.06" r="1.35" fill="#22f522"/>
<circle cx="461.93" cy="326.06" r="1.35" fill="#22f522"/>
<circle cx="464.65" cy="327.58" r="1.35" fill="#22f522"/>
<circle cx="467.36" cy="332.14" r="1.35" fill="#22f522"/>
<circle cx="470.08" cy="306.30" r="1.35" fill="#22f522"/>
<circle cx="472.79" cy="316.94" r="1.35" fill="#22f522"/>
<circle cx="475.50" cy="323.02" r="1.35" fill="#22f522"/>
<circle cx="478.22" cy="323.02" r="1.35" fill="#22f522"/>
<circle cx="480.93" cy="323.02" r="1.35" fill="#22f522"/>
<circle cx="483.65" cy="327.58" r="1.35" fill="#22f522"/>
<circle cx="486.36" cy="329.10" r="1.35" fill="#22f522"/>
<circle cx="489.07" cy="329.10" r="1.35" fill="#22f522"/>
<circle cx="491.79" cy="329.10" r="1.35" fill="#22f522"/>
<circle cx="494.50" cy="332.14" r="1.35" fill="#22f522"/>
<circle cx="497.22" cy="332.14" r="1.35" fill="#22f522"/>
<circle cx="499.93" cy="339.74" r="1.35" fill="#22f522"/>
<circle cx="502.64" cy="310.86" r="1.35" fill="#22f522"/>
<circle cx="505.36" cy="324.54" r="1.35" fill="#22f522"/>
<circle cx="508.07" cy="338.22" r="1.35" fill="#22f522"/>
<circle cx="510.79" cy="312.38" r="1.35" fill="#22f522"/>
<circle cx="513.50" cy="315.42" r="1.35" fill="#22f522"/>
<circle cx="516.21" cy="316.94" r="1.35" fill="#22f522"/>
<circle cx="518.93" cy="321.50" r="1.35" fill="#22f522"/>
<circle cx="521.64" cy="323.02" r="1.35" fill="#22f522"/>
<circle cx="524.36" cy="309.34" r="1.35" fill="#22f522"/>
<circle cx="527.07" cy="319.98" r="1.35" fill="#22f522"/>
<circle cx="529.78" cy="326.06" r="1.35" fill="#22f522"/>
<circle cx="532.50" cy="332.14" r="1.35" fill="#22f522"/>
<circle cx="535.21" cy="333.66" r="1.35" fill="#22f522"/>
<circle cx="537.93" cy="310.86" r="1.35" fill="#22f522"/>
<circle cx="377.80" cy="323.02" r="1.4" fill="#ff1a1a"/>
<circle cx="380.51" cy="313.90" r="1.4" fill="#ff1a1a"/>
<circle cx="383.23" cy="318.46" r="1.4" fill="#ff1a1a"/>
<circle cx="385.94" cy="315.42" r="1.4" fill="#ff1a1a"/>
<circle cx="388.66" cy="312.38" r="1.4" fill="#ff1a1a"/>
<circle cx="391.37" cy="315.42" r="1.4" fill="#ff1a1a"/>
<circle cx="394.08" cy="327.58" r="1.4" fill="#ff1a1a"/>
<circle cx="396.80" cy="303.26" r="1.4" fill="#ff1a1a"/>
<circle cx="399.51" cy="309.34" r="1.4" fill="#ff1a1a"/>
<circle cx="402.23" cy="313.90" r="1.4" fill="#ff1a1a"/>
<circle cx="404.94" cy="319.98" r="1.4" fill="#ff1a1a"/>
<circle cx="407.65" cy="326.06" r="1.4" fill="#ff1a1a"/>
<circle cx="410.37" cy="316.94" r="1.4" fill="#ff1a1a"/>
<circle cx="413.08" cy="323.02" r="1.4" fill="#ff1a1a"/>
<circle cx="415.80" cy="333.66" r="1.4" fill="#ff1a1a"/>
<circle cx="418.51" cy="309.34" r="1.4" fill="#ff1a1a"/>
<circle cx="421.22" cy="313.90" r="1.4" fill="#ff1a1a"/>
<circle cx="423.94" cy="326.06" r="1.4" fill="#ff1a1a"/>
<circle cx="426.65" cy="313.90" r="1.4" fill="#ff1a1a"/>
<circle cx="429.37" cy="329.10" r="1.4" fill="#ff1a1a"/>
<circle cx="432.08" cy="332.14" r="1.4" fill="#ff1a1a"/>
<circle cx="434.79" cy="318.46" r="1.4" fill="#ff1a1a"/>
<circle cx="437.51" cy="309.34" r="1.4" fill="#ff1a1a"/>
<circle cx="440.22" cy="310.86" r="1.4" fill="#ff1a1a"/>
<circle cx="442.94" cy="310.86" r="1.4" fill="#ff1a1a"/>
<circle cx="445.65" cy="316.94" r="1.4" fill="#ff1a1a"/>
<circle cx="448.36" cy="309.34" r="1.4" fill="#ff1a1a"/>
<circle cx="451.08" cy="310.86" r="1.4" fill="#ff1a1a"/>
<circle cx="453.79" cy="312.38" r="1.4" fill="#ff1a1a"/>
<circle cx="456.51" cy="323.02" r="1.4" fill="#ff1a1a"/>
<circle cx="459.22" cy="315.42" r="1.4" fill="#ff1a1a"/>
<circle cx="461.93" cy="315.42" r="1.4" fill="#ff1a1a"/>
<circle cx="464.65" cy="316.94" r="1.4" fill="#ff1a1a"/>
<circle cx="467.36" cy="321.50" r="1.4" fill="#ff1a1a"/>
<circle cx="470.08" cy="295.66" r="1.4" fill="#ff1a1a"/>
<circle cx="472.79" cy="307.82" r="1.4" fill="#ff1a1a"/>
<circle cx="475.50" cy="313.90" r="1.4" fill="#ff1a1a"/>
<circle cx="478.22" cy="313.90" r="1.4" fill="#ff1a1a"/>
<circle cx="480.93" cy="313.90" r="1.4" fill="#ff1a1a"/>
<circle cx="483.65" cy="318.46" r="1.4" fill="#ff1a1a"/>
<circle cx="486.36" cy="319.98" r="1.4" fill="#ff1a1a"/>
<circle cx="489.07" cy="319.98" r="1.4" fill="#ff1a1a"/>
<circle cx="491.79" cy="319.98" r="1.4" fill="#ff1a1a"/>
<circle cx="494.50" cy="323.02" r="1.4" fill="#ff1a1a"/>
<circle cx="497.22" cy="323.02" r="1.4" fill="#ff1a1a"/>
<circle cx="499.93" cy="330.62" r="1.4" fill="#ff1a1a"/>
<circle cx="502.64" cy="303.26" r="1.4" fill="#ff1a1a"/>
<circle cx="505.36" cy="316.94" r="1.4" fill="#ff1a1a"/>
<circle cx="508.07" cy="332.14" r="1.4" fill="#ff1a1a"/>
<circle cx="510.79" cy="306.30" r="1.4" fill="#ff1a1a"/>
<circle cx="513.50" cy="309.34" r="1.4" fill="#ff1a1a"/>
<circle cx="516.21" cy="310.86" r="1.4" fill="#ff1a1a"/>
<circle cx="518.93" cy="315.42" r="1.4" fill="#ff1a1a"/>
<circle cx="521.64" cy="318.46" r="1.4" fill="#ff1a1a"/>
<circle cx="524.36" cy="304.78" r="1.4" fill="#ff1a1a"/>
<circle cx="527.07" cy="315.42" r="1.4" fill="#ff1a1a"/>
<circle cx="529.78" cy="321.50" r="1.4" fill="#ff1a1a"/>
<circle cx="532.50" cy="327.58" r="1.4" fill="#ff1a1a"/>
<circle cx="535.21" cy="329.10" r="1.4" fill="#ff1a1a"/>
<circle cx="537.93" cy="307.82" r="1.4" fill="#ff1a1a"/>
<circle cx="388.30" cy="285.60" r="2.0" fill="#ff1a1a"/>
<circle cx="388.30" cy="296.90" r="2.0" fill="#22f522"/>
<text x="393.61" y="288.40" font-size="8.4" fill="#1e1e1e" stroke="#1e1e1e" stroke-width="0.15" textLength="71.55" lengthAdjust="spacingAndGlyphs">Number of Total egg</text>
<text x="393.59" y="300.30" font-size="8.4" fill="#1e1e1e" stroke="#1e1e1e" stroke-width="0.15" textLength="104.49" lengthAdjust="spacingAndGlyphs">Number of Single-yolked egg</text>
<text x="445.66" y="355.00" font-size="7.9" fill="#1e1e1e" stroke="#1e1e1e" stroke-width="0.18" textLength="29.31" lengthAdjust="spacingAndGlyphs">r=0.6914</text>
<text transform="translate(354.30,350.65) rotate(-90)" x="-0.50" y="0" font-size="9.9" fill="#1e1e1e" stroke="#1e1e1e" stroke-width="0.22" textLength="47.93" lengthAdjust="spacingAndGlyphs">Correlation</text>
<circle cx="128.80" cy="492.00" r="52.4" fill="none" stroke="#ff1a1a" stroke-width="1.55"/>
<circle cx="203.00" cy="491.30" r="52.4" fill="none" stroke="#ff1a1a" stroke-width="1.55"/>
<circle cx="166.50" cy="547.00" r="52.4" fill="none" stroke="#22f522" stroke-width="1.55"/>
<text x="97.55" y="435.10" font-size="9.8" fill="#1e1e1e" stroke="#1e1e1e" stroke-width="0.22" textLength="54.72" lengthAdjust="spacingAndGlyphs">High From A</text>
<text x="179.04" y="433.40" font-size="9.8" fill="#1e1e1e" stroke="#1e1e1e" stroke-width="0.22" textLength="55.23" lengthAdjust="spacingAndGlyphs">High From B</text>
<text x="146.05" y="612.70" font-size="9.8" fill="#1e1e1e" stroke="#1e1e1e" stroke-width="0.22" textLength="53.38" lengthAdjust="spacingAndGlyphs">Low From C</text>
<text x="117.12" y="489.93" font-size="10.4" fill="#1e1e1e" stroke="#1e1e1e" stroke-width="0.12" textLength="5.49" lengthAdjust="spacingAndGlyphs">6</text>
<text x="163.38" y="489.73" font-size="10.4" fill="#1e1e1e" stroke="#1e1e1e" stroke-width="0.12" textLength="5.49" lengthAdjust="spacingAndGlyphs">3</text>
<text x="202.38" y="489.93" font-size="10.4" fill="#1e1e1e" stroke="#1e1e1e" stroke-width="0.12" textLength="5.49" lengthAdjust="spacingAndGlyphs">4</text>
<text x="163.82" y="515.23" font-size="10.4" fill="#1e1e1e" stroke="#1e1e1e" stroke-width="0.12" textLength="5.49" lengthAdjust="spacingAndGlyphs">6</text>
<text x="137.35" y="531.33" font-size="10.4" fill="#1e1e1e" stroke="#1e1e1e" stroke-width="0.12" textLength="5.49" lengthAdjust="spacingAndGlyphs">0</text>
<text x="188.25" y="530.63" font-size="10.4" fill="#1e1e1e" stroke="#1e1e1e" stroke-width="0.12" textLength="5.49" lengthAdjust="spacingAndGlyphs">2</text>
<text x="163.15" y="570.03" font-size="10.4" fill="#1e1e1e" stroke="#1e1e1e" stroke-width="0.12" textLength="5.49" lengthAdjust="spacingAndGlyphs">7</text>
<text x="35.71" y="489.10" font-size="9.6" fill="#1e1e1e" stroke="#1e1e1e" stroke-width="0.22" textLength="18.92" lengthAdjust="spacingAndGlyphs"># 20</text>
<text x="35.71" y="500.50" font-size="9.6" fill="#1e1e1e" stroke="#1e1e1e" stroke-width="0.22" textLength="19.01" lengthAdjust="spacingAndGlyphs"># 29</text>
<text x="35.71" y="512.20" font-size="9.6" fill="#1e1e1e" stroke="#1e1e1e" stroke-width="0.22" textLength="18.95" lengthAdjust="spacingAndGlyphs"># 35</text>
<text x="35.71" y="524.00" font-size="9.6" fill="#1e1e1e" stroke="#1e1e1e" stroke-width="0.22" textLength="18.83" lengthAdjust="spacingAndGlyphs"># 44</text>
<text x="35.71" y="535.50" font-size="9.6" fill="#1e1e1e" stroke="#1e1e1e" stroke-width="0.22" textLength="18.97" lengthAdjust="spacingAndGlyphs"># 46</text>
<text x="35.71" y="547.20" font-size="9.6" fill="#1e1e1e" stroke="#1e1e1e" stroke-width="0.22" textLength="19.02" lengthAdjust="spacingAndGlyphs"># 51</text>
<line x1="156.60" y1="511.50" x2="65.00" y2="513.90" stroke="#111" stroke-width="1.6"/>
<path d="M58.50,514.00 L66.10,510.60 L66.10,517.40 Z" fill="#111"/>
<circle cx="394.00" cy="492.00" r="52.4" fill="none" stroke="#22f522" stroke-width="1.55"/>
<circle cx="467.30" cy="491.60" r="52.4" fill="none" stroke="#22f522" stroke-width="1.55"/>
<circle cx="431.70" cy="546.90" r="52.4" fill="none" stroke="#ff1a1a" stroke-width="1.55"/>
<text x="361.93" y="434.40" font-size="9.8" fill="#1e1e1e" stroke="#1e1e1e" stroke-width="0.22" textLength="53.74" lengthAdjust="spacingAndGlyphs">Low From A</text>
<text x="443.94" y="433.30" font-size="9.8" fill="#1e1e1e" stroke="#1e1e1e" stroke-width="0.22" textLength="53.23" lengthAdjust="spacingAndGlyphs">Low From B</text>
<text x="411.65" y="612.30" font-size="9.8" fill="#1e1e1e" stroke="#1e1e1e" stroke-width="0.22" textLength="55.37" lengthAdjust="spacingAndGlyphs">High From C</text>
<text x="381.65" y="489.63" font-size="10.4" fill="#1e1e1e" stroke="#1e1e1e" stroke-width="0.12" textLength="5.49" lengthAdjust="spacingAndGlyphs">7</text>
<text x="427.98" y="489.93" font-size="10.4" fill="#1e1e1e" stroke="#1e1e1e" stroke-width="0.12" textLength="5.49" lengthAdjust="spacingAndGlyphs">3</text>
<text x="466.85" y="489.63" font-size="10.4" fill="#1e1e1e" stroke="#1e1e1e" stroke-width="0.12" textLength="5.49" lengthAdjust="spacingAndGlyphs">0</text>
<text x="428.56" y="515.53" font-size="10.4" fill="#1e1e1e" stroke="#1e1e1e" stroke-width="0.12" textLength="5.49" lengthAdjust="spacingAndGlyphs">5</text>
<text x="401.85" y="530.73" font-size="10.4" fill="#1e1e1e" stroke="#1e1e1e" stroke-width="0.12" textLength="5.49" lengthAdjust="spacingAndGlyphs">0</text>
<text x="452.85" y="529.43" font-size="10.4" fill="#1e1e1e" stroke="#1e1e1e" stroke-width="0.12" textLength="5.49" lengthAdjust="spacingAndGlyphs">7</text>
<text x="428.08" y="570.23" font-size="10.4" fill="#1e1e1e" stroke="#1e1e1e" stroke-width="0.12" textLength="5.49" lengthAdjust="spacingAndGlyphs">3</text>
<text x="300.21" y="492.70" font-size="9.6" fill="#1e1e1e" stroke="#1e1e1e" stroke-width="0.22" textLength="19.14" lengthAdjust="spacingAndGlyphs"># 22</text>
<text x="300.21" y="504.40" font-size="9.6" fill="#1e1e1e" stroke="#1e1e1e" stroke-width="0.22" textLength="19.07" lengthAdjust="spacingAndGlyphs"># 23</text>
<text x="300.21" y="515.90" font-size="9.6" fill="#1e1e1e" stroke="#1e1e1e" stroke-width="0.22" textLength="18.93" lengthAdjust="spacingAndGlyphs"># 24</text>
<text x="300.21" y="527.60" font-size="9.6" fill="#1e1e1e" stroke="#1e1e1e" stroke-width="0.22" textLength="19.07" lengthAdjust="spacingAndGlyphs"># 28</text>
<text x="300.21" y="539.10" font-size="9.6" fill="#1e1e1e" stroke="#1e1e1e" stroke-width="0.22" textLength="19.07" lengthAdjust="spacingAndGlyphs"># 43</text>
<line x1="422.60" y1="510.20" x2="331.00" y2="512.60" stroke="#111" stroke-width="1.6"/>
<path d="M324.50,512.70 L332.10,509.30 L332.10,516.10 Z" fill="#111"/>
</svg>
</body></html>
